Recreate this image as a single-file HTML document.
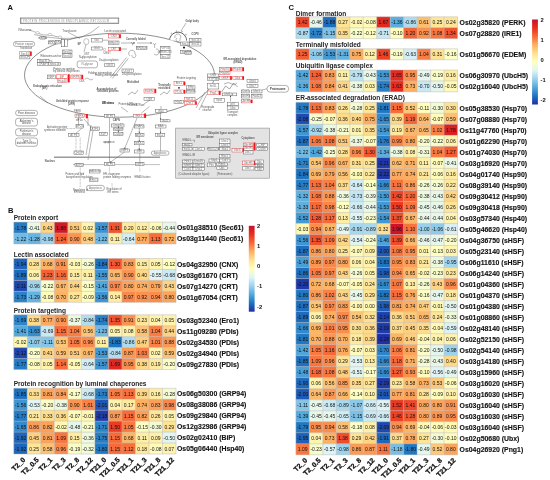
<!DOCTYPE html>
<html><head><meta charset="utf-8"><title>Figure</title><style>
*{margin:0;padding:0}
html,body{width:550px;height:480px;overflow:hidden;background:#fff}
svg{position:absolute;left:0;top:0;display:block}
text{font-family:"Liberation Sans",Arial,Helvetica,sans-serif}
.ti{font-size:6.55px;font-weight:bold;fill:#262626}
.nm{font-size:5.0px;fill:#111;text-anchor:middle;font-weight:normal}
.lb{font-size:6.9px;font-weight:bold;fill:#111;stroke:#111;stroke-width:0.12px}
.cl{font-size:6.9px;font-weight:bold;fill:#111;text-anchor:end;dominant-baseline:hanging;stroke:#111;stroke-width:0.3px}
.gl{stroke:#b4b4b4;stroke-width:0.45}
.lg{font-size:5.8px;fill:#111;font-weight:bold}
.pl{font-size:7.6px;font-weight:bold;fill:#111}
</style></head>
<body><svg width="550" height="480" viewBox="0 0 550 480">
<g id="kegg" font-family="Liberation Sans, Arial, sans-serif"><rect x="20.6" y="18.0" width="98.2" height="5.6" fill="#fff" stroke="#444" stroke-width="0.55"/>
<rect x="21.4" y="18.7" width="96.6" height="4.2" fill="none" stroke="#777" stroke-width="0.25"/>
<text x="23.0" y="22.0" font-size="2.56" textLength="86" lengthAdjust="spacing" fill="#888">PROTEIN PROCESSING IN ENDOPLASMIC RETICULUM</text>
<ellipse cx="119.5" cy="75.2" rx="95" ry="42" fill="none" stroke="#444" stroke-width="0.6"/>
<path d="M169.6 38.9 A8.6 8.6 0 0 1 186.6 40.6" stroke="#3a3a3a" stroke-width="0.80" fill="none"/>
<rect x="170.5" y="38.3" width="15.5" height="2.2" fill="#fff"/>
<path d="M175 38 a3 3 0 1 1 5 1 a2 2 0 1 1 -3 -1" stroke="#555" stroke-width="0.42" fill="none"/>
<text x="185.50" y="22.20" font-size="2.56" font-weight="bold" text-anchor="start" fill="#555">Golgi body</text>
<line x1="186.00" y1="23.00" x2="181.00" y2="31.00" stroke="#555" stroke-width="0.42"/>
<circle cx="171.5" cy="33.5" r="0.6" fill="none" stroke="#555" stroke-width="0.3"/>
<circle cx="176.5" cy="31.2" r="0.6" fill="none" stroke="#555" stroke-width="0.3"/>
<circle cx="182.0" cy="31.5" r="0.6" fill="none" stroke="#555" stroke-width="0.3"/>
<circle cx="186.0" cy="34.5" r="0.6" fill="none" stroke="#555" stroke-width="0.3"/>
<text x="18.50" y="31.00" font-size="2.88" text-anchor="start" fill="#555">Ribosome</text>
<path d="M29 30.2 Q34 31 37 33 Q44 36 50 35 Q58 36 64 40" stroke="#555" stroke-width="0.42" fill="none"/>
<path d="M34 34.5 Q60 41 82 37 Q92 33 99 26.5" stroke="#555" stroke-width="0.42" fill="none"/>
<ellipse cx="37.5" cy="32.8" rx="1.8" ry="1.2" fill="#fff" stroke="#555" stroke-width="0.3"/>
<ellipse cx="50.0" cy="34.5" rx="1.8" ry="1.2" fill="#fff" stroke="#555" stroke-width="0.3"/>
<ellipse cx="60.0" cy="37.2" rx="1.8" ry="1.2" fill="#fff" stroke="#555" stroke-width="0.3"/>
<rect x="39.60" y="36.60" width="6.20" height="2.60" rx="1.00" fill="#fff" stroke="#555" stroke-width="0.45"/>
<text x="42.70" y="38.85" font-size="2.94" text-anchor="middle" fill="#777">mRNA</text>
<text x="62.30" y="31.60" font-size="2.88" text-anchor="start" fill="#555">Translocon</text>
<line x1="68.00" y1="32.30" x2="80.00" y2="38.50" stroke="#555" stroke-width="0.42"/>
<rect x="13.50" y="41.50" width="21.10" height="4.90" rx="2.20" fill="#fff" stroke="#555" stroke-width="0.45"/>
<text x="24.05" y="44.90" font-size="2.94" text-anchor="middle" fill="#777">Protein export</text>
<text x="19.60" y="49.30" font-size="2.56" text-anchor="start" fill="#555">Translocon</text>
<rect x="19.80" y="51.70" width="10.10" height="4.00" rx="0.00" fill="#fff" stroke="#f03030" stroke-width="0.45"/>
<text x="24.85" y="54.65" font-size="2.94" text-anchor="middle" fill="#777">Sec61</text>
<rect x="30.05" y="51.50" width="1.7" height="4.40" fill="#f0141c"/>
<rect x="19.80" y="55.80" width="10.10" height="3.10" rx="0.00" fill="#fff" stroke="#555" stroke-width="0.45"/>
<text x="24.85" y="58.30" font-size="2.94" text-anchor="middle" fill="#777">SecDF</text>
<rect x="48.30" y="41.00" width="6.30" height="2.90" rx="0.00" fill="#fff" stroke="#555" stroke-width="0.45"/>
<text x="51.45" y="43.40" font-size="2.94" text-anchor="middle" fill="#777">SRP</text>
<rect x="55.20" y="40.70" width="5.20" height="3.20" rx="0.00" fill="#fff" stroke="#555" stroke-width="0.45"/>
<text x="57.80" y="43.25" font-size="2.94" text-anchor="middle" fill="#777">SR</text>
<rect x="61.6" y="39.6" width="2.6" height="7.2" fill="#fff" stroke="#444" stroke-width="0.4"/>
<rect x="64.8" y="39.6" width="2.6" height="7.2" fill="#fff" stroke="#444" stroke-width="0.4"/>
<rect x="62.50" y="50.00" width="9.50" height="3.50" rx="0.00" fill="#fff" stroke="#555" stroke-width="0.45"/>
<text x="67.25" y="52.70" font-size="2.94" text-anchor="middle" fill="#777">Sec62</text>
<rect x="62.50" y="53.80" width="9.50" height="3.50" rx="0.00" fill="#fff" stroke="#555" stroke-width="0.45"/>
<text x="67.25" y="56.50" font-size="2.94" text-anchor="middle" fill="#777">Sec63</text>
<text x="40.60" y="56.50" font-size="2.64" text-anchor="start" fill="#555">Ribosome-anchor</text>
<rect x="37.50" y="59.20" width="11.50" height="3.30" rx="0.00" fill="#fff" stroke="#555" stroke-width="0.45"/>
<text x="43.25" y="61.80" font-size="2.94" text-anchor="middle" fill="#777">Bap31</text>
<rect x="37.50" y="62.60" width="10.50" height="3.10" rx="0.00" fill="#fff" stroke="#555" stroke-width="0.45"/>
<text x="42.75" y="65.10" font-size="2.94" text-anchor="middle" fill="#777">TRAP</text>
<rect x="48.60" y="62.60" width="11.80" height="3.10" rx="0.00" fill="#fff" stroke="#555" stroke-width="0.45"/>
<text x="54.50" y="65.10" font-size="2.94" text-anchor="middle" fill="#777">Sec61b</text>
<line x1="49.00" y1="60.80" x2="52.00" y2="60.80" stroke="#555" stroke-width="0.42"/>
<line x1="52.00" y1="60.80" x2="52.00" y2="62.60" stroke="#555" stroke-width="0.42"/>
<text x="77.50" y="44.50" font-size="2.60" font-weight="bold" text-anchor="start" fill="#555">SP</text>
<ellipse cx="86.3" cy="41.6" rx="2.6" ry="3" fill="#fff" stroke="#555" stroke-width="0.35"/>
<line x1="86.00" y1="44.50" x2="84.00" y2="52.00" stroke="#555" stroke-width="0.42"/>
<text x="79.00" y="58.00" font-size="2.64" text-anchor="start" fill="#555">N-glycosylation</text>
<text x="84.00" y="54.50" font-size="2.56" text-anchor="start" fill="#555">OST</text>
<rect x="77.20" y="61.00" width="20.30" height="6.80" rx="2.20" fill="#fff" stroke="#555" stroke-width="0.45"/>
<text x="87.35" y="65.35" font-size="2.94" text-anchor="middle" fill="#777">N-glycan</text>
<rect x="91.30" y="38.40" width="10.90" height="3.60" rx="0.00" fill="#fff" stroke="#555" stroke-width="0.45"/>
<text x="96.75" y="41.15" font-size="2.94" text-anchor="middle" fill="#777">GlcI</text>
<rect x="91.30" y="47.00" width="10.90" height="3.00" rx="0.00" fill="#fff" stroke="#555" stroke-width="0.45"/>
<text x="96.75" y="49.45" font-size="2.94" text-anchor="middle" fill="#777">GlcII</text>
<text x="53.20" y="69.60" font-size="2.64" text-anchor="start" fill="#555">Protein recognition</text>
<text x="53.20" y="72.00" font-size="2.64" text-anchor="start" fill="#555">by luminal chaperones</text>
<rect x="47.50" y="75.00" width="7.80" height="3.80" rx="0.00" fill="#fff" stroke="#555" stroke-width="0.45"/>
<text x="51.40" y="77.85" font-size="2.94" text-anchor="middle" fill="#777">NEF</text>
<rect x="56.30" y="74.80" width="11.40" height="4.00" rx="0.00" fill="#fff" stroke="#f03030" stroke-width="0.45"/>
<text x="62.00" y="77.75" font-size="2.94" text-anchor="middle" fill="#777">BiP</text>
<rect x="57.30" y="78.80" width="10.40" height="3.50" rx="0.00" fill="#fff" stroke="#f03030" stroke-width="0.45"/>
<text x="62.50" y="81.50" font-size="2.94" text-anchor="middle" fill="#777">Hsp40</text>
<rect x="68.00" y="74.20" width="1.70" height="8.20" fill="#f0141c"/>
<rect x="70.80" y="75.00" width="10.50" height="3.80" rx="0.00" fill="#fff" stroke="#f03030" stroke-width="0.45"/>
<text x="76.05" y="77.85" font-size="2.94" text-anchor="middle" fill="#777">GRP94</text>
<rect x="81.45" y="74.80" width="1.7" height="4.20" fill="#f0141c"/>
<text x="33.30" y="86.60" font-size="2.60" font-weight="bold" text-anchor="start" fill="#555">Endoplasmic reticulum</text>
<text x="42.00" y="89.00" font-size="2.56" font-weight="bold" text-anchor="start" fill="#555">(ER)</text>
<text x="88.30" y="74.00" font-size="2.64" text-anchor="start" fill="#555">Folding intermediate</text>
<path d="M85 79 q2 -2 4 0 q2 2 4 0" stroke="#555" stroke-width="0.42" fill="none"/>
<text x="79.00" y="81.50" font-size="2.56" text-anchor="start" fill="#555">CNX</text>
<text x="104.50" y="32.20" font-size="2.76" text-anchor="start" fill="#555">Lectin associated</text>
<rect x="108.50" y="34.40" width="10.50" height="3.60" rx="0.00" fill="#fff" stroke="#f03030" stroke-width="0.45"/>
<text x="113.75" y="37.15" font-size="2.94" text-anchor="middle" fill="#777">CNX</text>
<rect x="119.15" y="34.20" width="1.7" height="4.00" fill="#f0141c"/>
<rect x="108.50" y="41.00" width="10.50" height="3.20" rx="0.00" fill="#fff" stroke="#555" stroke-width="0.45"/>
<text x="113.75" y="43.55" font-size="2.94" text-anchor="middle" fill="#777">ERp57</text>
<rect x="108.50" y="47.30" width="10.50" height="3.50" rx="0.00" fill="#fff" stroke="#f03030" stroke-width="0.45"/>
<text x="113.75" y="50.00" font-size="2.94" text-anchor="middle" fill="#777">CRT</text>
<rect x="119.15" y="47.10" width="1.7" height="3.90" fill="#f0141c"/>
<text x="103.50" y="54.00" font-size="2.56" text-anchor="start" fill="#555">UGGT</text>
<circle cx="104.5" cy="49.5" r="1.2" fill="none" stroke="#555" stroke-width="0.3"/>
<line x1="119.50" y1="49.00" x2="127.00" y2="49.00" stroke="#555" stroke-width="0.42"/>
<line x1="102.50" y1="40.20" x2="108.50" y2="40.20" stroke="#555" stroke-width="0.42"/>
<text x="126.00" y="40.10" font-size="2.56" font-weight="bold" text-anchor="start" fill="#555">Correctly folded</text>
<path d="M131 42 l1.7 2 l1.7 -2 M132.7 44 v1.5" stroke="#555" stroke-width="0.46" fill="none"/>
<rect x="136.70" y="46.30" width="10.30" height="3.10" rx="0.00" fill="#fff" stroke="#555" stroke-width="0.45"/>
<text x="141.85" y="48.80" font-size="2.94" text-anchor="middle" fill="#777">ERManI</text>
<line x1="121.00" y1="43.00" x2="135.00" y2="43.00" stroke="#555" stroke-width="0.42"/>
<path d="M135.00 43.00L133.56 43.70L133.56 42.30Z" fill="#444"/>
<line x1="137.00" y1="43.00" x2="152.00" y2="43.00" stroke="#555" stroke-width="0.42"/>
<path d="M152.00 43.00L150.56 43.70L150.56 42.30Z" fill="#444"/>
<path d="M130 56 a3.2 3.2 0 1 1 5 -2 a2 2 0 1 1 -3 1" stroke="#555" stroke-width="0.42" fill="none"/>
<path d="M153 43 l1.6 2 l1.6 -2 M154.6 45 v3 M156 49 a3 3 0 1 1 -2 5" stroke="#555" stroke-width="0.42" fill="none"/>
<rect x="160.60" y="46.30" width="9.40" height="4.00" rx="0.00" fill="#fff" stroke="#555" stroke-width="0.45"/>
<text x="165.30" y="49.25" font-size="2.94" text-anchor="middle" fill="#777">VIP36</text>
<rect x="160.60" y="50.40" width="9.40" height="4.00" rx="0.00" fill="#fff" stroke="#555" stroke-width="0.45"/>
<text x="165.30" y="53.35" font-size="2.94" text-anchor="middle" fill="#777">ERGIC53</text>
<rect x="160.60" y="54.50" width="9.40" height="4.10" rx="0.00" fill="#fff" stroke="#555" stroke-width="0.45"/>
<text x="165.30" y="57.50" font-size="2.94" text-anchor="middle" fill="#777">Sec12</text>
<line x1="157.50" y1="52.00" x2="160.60" y2="52.00" stroke="#555" stroke-width="0.42"/>
<rect x="180.40" y="42.00" width="10.40" height="3.20" rx="0.00" fill="#fff" stroke="#555" stroke-width="0.45"/>
<text x="185.60" y="44.55" font-size="2.94" text-anchor="middle" fill="#777">Sec23</text>
<rect x="180.40" y="50.40" width="10.40" height="3.10" rx="0.00" fill="#fff" stroke="#555" stroke-width="0.45"/>
<text x="185.60" y="52.90" font-size="2.94" text-anchor="middle" fill="#777">Sec24</text>
<text x="191.60" y="35.20" font-size="2.56" font-weight="bold" text-anchor="start" fill="#555">COPII</text>
<rect x="189.70" y="38.40" width="11.30" height="3.00" rx="0.00" fill="#fff" stroke="#555" stroke-width="0.45"/>
<text x="195.35" y="40.85" font-size="2.94" text-anchor="middle" fill="#777">Sec13</text>
<rect x="189.70" y="42.20" width="11.30" height="3.80" rx="0.00" fill="#fff" stroke="#555" stroke-width="0.45"/>
<text x="195.35" y="45.05" font-size="2.94" text-anchor="middle" fill="#777">Sec31</text>
<circle cx="184" cy="47.6" r="1.1" fill="#222"/>
<text x="99.00" y="60.50" font-size="2.64" text-anchor="start" fill="#555">De-glucosylation</text>
<rect x="104.40" y="63.80" width="10.40" height="2.80" rx="0.00" fill="#fff" stroke="#555" stroke-width="0.45"/>
<text x="109.60" y="66.15" font-size="2.94" text-anchor="middle" fill="#777">GlcII</text>
<line x1="126.50" y1="57.50" x2="110.50" y2="77.50" stroke="#555" stroke-width="0.46"/>
<line x1="128.30" y1="58.50" x2="112.30" y2="78.50" stroke="#555" stroke-width="0.46"/>
<rect x="122.00" y="69.00" width="11.50" height="3.30" rx="0.00" fill="#fff" stroke="#555" stroke-width="0.45"/>
<text x="127.75" y="71.60" font-size="2.94" text-anchor="middle" fill="#777">UGGT</text>
<text x="122.00" y="75.20" font-size="2.64" text-anchor="start" fill="#555">De-glucosylation</text>
<text x="95.00" y="76.20" font-size="2.56" text-anchor="start" fill="#555">Folding intermediate</text>
<text x="127.00" y="83.40" font-size="2.60" font-weight="bold" text-anchor="start" fill="#555">Misfolded</text>
<text x="158.20" y="86.20" font-size="2.56" font-weight="bold" text-anchor="start" fill="#555">Terminally</text>
<text x="158.20" y="88.90" font-size="2.56" font-weight="bold" text-anchor="start" fill="#555">misfolded</text>
<text x="96.50" y="89.60" font-size="2.56" font-weight="bold" text-anchor="start" fill="#555">Accumulation of</text>
<text x="97.20" y="92.20" font-size="2.56" font-weight="bold" text-anchor="start" fill="#555">unfolded proteins</text>
<rect x="144.00" y="89.00" width="10.40" height="4.00" rx="0.00" fill="#fff" stroke="#f03030" stroke-width="0.45"/>
<text x="149.20" y="91.95" font-size="2.94" text-anchor="middle" fill="#777">EDEM</text>
<rect x="154.55" y="88.80" width="1.7" height="4.40" fill="#f0141c"/>
<rect x="144.00" y="97.30" width="10.40" height="3.10" rx="0.00" fill="#fff" stroke="#555" stroke-width="0.45"/>
<text x="149.20" y="99.80" font-size="2.94" text-anchor="middle" fill="#777">OS9</text>
<path d="M128 95 l4 -3 l3 2 l3 -4" stroke="#555" stroke-width="0.46" fill="none"/>
<path d="M160 95 l4 -3 l3 2 l3 -4" stroke="#555" stroke-width="0.46" fill="none"/>
<path d="M150 100 l-6 4" stroke="#555" stroke-width="0.42" fill="none"/>
<text x="176.80" y="79.00" font-size="2.64" text-anchor="start" fill="#555">Protein targeting</text>
<rect x="174.00" y="81.70" width="9.50" height="3.50" rx="0.00" fill="#fff" stroke="#f03030" stroke-width="0.45"/>
<text x="178.75" y="84.40" font-size="2.94" text-anchor="middle" fill="#777">Ero1</text>
<rect x="183.65" y="81.50" width="1.7" height="3.90" fill="#f0141c"/>
<rect x="186.70" y="85.80" width="8.30" height="3.20" rx="0.00" fill="#fff" stroke="#555" stroke-width="0.45"/>
<text x="190.85" y="88.35" font-size="2.94" text-anchor="middle" fill="#777">ERp</text>
<circle cx="179" cy="87.8" r="0.9" fill="#222"/>
<rect x="174.00" y="90.00" width="9.50" height="3.50" rx="0.00" fill="#fff" stroke="#f03030" stroke-width="0.45"/>
<text x="178.75" y="92.70" font-size="2.94" text-anchor="middle" fill="#777">PDIs</text>
<rect x="183.65" y="89.80" width="1.7" height="3.90" fill="#f0141c"/>
<rect x="186.70" y="90.00" width="8.30" height="3.00" rx="0.00" fill="#fff" stroke="#555" stroke-width="0.45"/>
<text x="190.85" y="92.45" font-size="2.94" text-anchor="middle" fill="#777">ERp44</text>
<rect x="174.00" y="100.40" width="9.50" height="3.10" rx="0.00" fill="#fff" stroke="#555" stroke-width="0.45"/>
<text x="178.75" y="102.90" font-size="2.94" text-anchor="middle" fill="#777">Hrd1</text>
<rect x="184.60" y="97.30" width="10.40" height="3.10" rx="0.00" fill="#fff" stroke="#f03030" stroke-width="0.45"/>
<text x="189.80" y="99.80" font-size="2.94" text-anchor="middle" fill="#777">Sel1L</text>
<rect x="184.60" y="101.50" width="10.40" height="3.10" rx="0.00" fill="#fff" stroke="#f03030" stroke-width="0.45"/>
<text x="189.80" y="104.00" font-size="2.94" text-anchor="middle" fill="#777">Der1</text>
<rect x="195.15" y="101.30" width="1.7" height="3.50" fill="#f0141c"/>
<text x="102.00" y="104.00" font-size="2.56" font-weight="bold" text-anchor="start" fill="#555">UB stress</text>
<text x="118.50" y="105.00" font-size="2.64" text-anchor="start" fill="#555">Protein UPRsig</text>
<rect x="185.00" y="51.60" width="6.60" height="2.80" rx="0.00" fill="#fff" stroke="#555" stroke-width="0.45"/>
<text x="188.30" y="53.95" font-size="2.94" text-anchor="middle" fill="#777">Sar1</text>
<text x="223.50" y="60.00" font-size="2.56" font-weight="bold" text-anchor="start" fill="#555">ER-associated degradation</text>
<text x="233.50" y="62.70" font-size="2.56" font-weight="bold" text-anchor="start" fill="#555">(ERAD)</text>
<rect x="219.70" y="67.50" width="10.30" height="3.50" rx="0.00" fill="#fff" stroke="#f03030" stroke-width="0.45"/>
<text x="224.85" y="70.20" font-size="2.94" text-anchor="middle" fill="#777">Hsp70</text>
<rect x="230.15" y="67.30" width="1.7" height="3.90" fill="#f0141c"/>
<rect x="232.80" y="67.50" width="9.40" height="3.50" rx="0.00" fill="#fff" stroke="#f03030" stroke-width="0.45"/>
<text x="237.50" y="70.20" font-size="2.94" text-anchor="middle" fill="#777">Hsp40</text>
<rect x="242.35" y="67.30" width="1.7" height="3.90" fill="#f0141c"/>
<rect x="219.70" y="71.40" width="10.30" height="3.20" rx="0.00" fill="#fff" stroke="#f03030" stroke-width="0.45"/>
<text x="224.85" y="73.95" font-size="2.94" text-anchor="middle" fill="#777">Hsp90</text>
<rect x="219.70" y="76.30" width="10.30" height="3.40" rx="0.00" fill="#fff" stroke="#f03030" stroke-width="0.45"/>
<text x="224.85" y="78.95" font-size="2.94" text-anchor="middle" fill="#777">sHSF</text>
<rect x="230.15" y="76.10" width="1.7" height="3.80" fill="#f0141c"/>
<rect x="232.80" y="76.30" width="9.40" height="3.40" rx="0.00" fill="#fff" stroke="#f03030" stroke-width="0.45"/>
<text x="237.50" y="78.95" font-size="2.94" text-anchor="middle" fill="#777">Ubx</text>
<rect x="242.35" y="76.10" width="1.7" height="3.80" fill="#f0141c"/>
<rect x="207.50" y="74.00" width="11.30" height="3.00" rx="0.00" fill="#fff" stroke="#555" stroke-width="0.45"/>
<text x="213.15" y="76.45" font-size="2.94" text-anchor="middle" fill="#777">OS9</text>
<rect x="207.50" y="77.80" width="11.30" height="2.90" rx="0.00" fill="#fff" stroke="#555" stroke-width="0.45"/>
<text x="213.15" y="80.20" font-size="2.94" text-anchor="middle" fill="#777">XTP3B</text>
<rect x="207.50" y="83.50" width="11.30" height="5.50" rx="0.00" fill="#fff" stroke="#555" stroke-width="0.45"/>
<text x="213.15" y="87.20" font-size="2.94" text-anchor="middle" fill="#777">Sel1L</text>
<rect x="207.50" y="91.00" width="11.30" height="3.70" rx="0.00" fill="#fff" stroke="#f03030" stroke-width="0.45"/>
<text x="213.15" y="93.80" font-size="2.94" text-anchor="middle" fill="#777">Png1</text>
<rect x="218.95" y="90.80" width="1.7" height="4.10" fill="#f0141c"/>
<path d="M221.6 92 l4 -6 l4 3 l4 -6 l4 4" stroke="#555" stroke-width="0.52" fill="none"/>
<path d="M224 84 q4 -3 8 0 q3 2 5 -1" stroke="#555" stroke-width="0.46" fill="none"/>
<rect x="222.50" y="93.00" width="9.50" height="2.80" rx="0.00" fill="#fff" stroke="#555" stroke-width="0.45"/>
<text x="227.25" y="95.35" font-size="2.94" text-anchor="middle" fill="#777">Ufd1</text>
<rect x="232.80" y="93.00" width="4.00" height="2.80" rx="0.00" fill="#fff" stroke="#555" stroke-width="0.45"/>
<rect x="214.00" y="98.50" width="10.40" height="3.70" rx="0.00" fill="#fff" stroke="#555" stroke-width="0.45"/>
<text x="219.20" y="101.30" font-size="2.94" text-anchor="middle" fill="#777">Npl4</text>
<rect x="227.20" y="102.20" width="11.30" height="3.60" rx="0.00" fill="#fff" stroke="#555" stroke-width="0.45"/>
<text x="232.85" y="104.95" font-size="2.94" text-anchor="middle" fill="#777">p97</text>
<rect x="227.20" y="106.00" width="11.30" height="3.70" rx="0.00" fill="#fff" stroke="#555" stroke-width="0.45"/>
<text x="232.85" y="108.80" font-size="2.94" text-anchor="middle" fill="#777">Ubx</text>
<line x1="230.50" y1="101.60" x2="230.50" y2="95.50" stroke="#555" stroke-width="0.42"/>
<path d="M230.50 95.50L231.20 96.94L229.80 96.94Z" fill="#444"/>
<text x="227.00" y="112.80" font-size="2.64" text-anchor="start" fill="#555">Transport</text>
<text x="227.50" y="115.50" font-size="2.64" text-anchor="start" fill="#555">complex</text>
<rect x="247.00" y="79.70" width="11.00" height="2.90" rx="0.00" fill="#fff" stroke="#555" stroke-width="0.45"/>
<text x="252.50" y="82.10" font-size="2.94" text-anchor="middle" fill="#777">Ubc6</text>
<rect x="247.00" y="84.40" width="11.00" height="2.90" rx="0.00" fill="#fff" stroke="#555" stroke-width="0.45"/>
<text x="252.50" y="86.80" font-size="2.94" text-anchor="middle" fill="#777">Ubc7</text>
<rect x="241.30" y="90.00" width="8.40" height="2.90" rx="0.00" fill="#fff" stroke="#555" stroke-width="0.45"/>
<text x="245.50" y="92.40" font-size="2.94" text-anchor="middle" fill="#777">Cue1</text>
<rect x="251.60" y="90.00" width="10.40" height="2.90" rx="0.00" fill="#fff" stroke="#555" stroke-width="0.45"/>
<text x="256.80" y="92.40" font-size="2.94" text-anchor="middle" fill="#777">Ubc1</text>
<rect x="241.30" y="94.70" width="8.40" height="3.30" rx="0.00" fill="#fff" stroke="#555" stroke-width="0.45"/>
<text x="245.50" y="97.30" font-size="2.94" text-anchor="middle" fill="#777">UbcH5</text>
<rect x="251.60" y="94.70" width="10.40" height="3.30" rx="0.00" fill="#fff" stroke="#555" stroke-width="0.45"/>
<text x="256.80" y="97.30" font-size="2.94" text-anchor="middle" fill="#777">Rad23</text>
<rect x="241.30" y="99.80" width="9.40" height="3.10" rx="0.00" fill="#fff" stroke="#f03030" stroke-width="0.45"/>
<text x="246.00" y="102.30" font-size="2.94" text-anchor="middle" fill="#777">UbcH5</text>
<rect x="250.85" y="99.60" width="1.7" height="3.50" fill="#f0141c"/>
<rect x="267.00" y="85.40" width="21.60" height="6.80" rx="3.20" fill="#fff" stroke="#555" stroke-width="0.45"/>
<text x="277.80" y="89.80" font-size="2.70" font-weight="bold" text-anchor="middle" fill="#333">Proteasome</text>
<line x1="262.00" y1="90.00" x2="267.00" y2="88.80" stroke="#555" stroke-width="0.42"/>
<path d="M205 92 L196 108 M207 94 L199 110" stroke="#555" stroke-width="0.42" fill="none"/>
<text x="201.50" y="108.00" font-size="2.56" text-anchor="start" fill="#555">Retrograde</text>
<text x="202.50" y="110.80" font-size="2.56" text-anchor="start" fill="#555">channel</text>
<text x="56.00" y="102.40" font-size="2.60" font-weight="bold" text-anchor="start" fill="#555">Unfolded protein response</text>
<text x="68.00" y="105.00" font-size="2.56" font-weight="bold" text-anchor="start" fill="#555">(UPR)</text>
<rect x="15.60" y="110.40" width="21.90" height="5.20" rx="2.40" fill="#fff" stroke="#555" stroke-width="0.45"/>
<text x="26.50" y="113.90" font-size="2.64" text-anchor="middle" fill="#555">Prion diseases</text>
<rect x="15.60" y="118.30" width="21.90" height="7.70" rx="2.40" fill="#fff" stroke="#555" stroke-width="0.45"/>
<text x="26.50" y="121.70" font-size="2.64" text-anchor="middle" fill="#555">Alzheimer's</text>
<text x="26.50" y="124.40" font-size="2.64" text-anchor="middle" fill="#555">disease</text>
<rect x="15.60" y="128.70" width="21.90" height="7.10" rx="2.40" fill="#fff" stroke="#555" stroke-width="0.45"/>
<text x="26.50" y="131.90" font-size="2.64" text-anchor="middle" fill="#555">Parkinson's</text>
<text x="26.50" y="134.50" font-size="2.64" text-anchor="middle" fill="#555">disease</text>
<rect x="15.60" y="138.00" width="21.90" height="8.30" rx="2.40" fill="#fff" stroke="#555" stroke-width="0.45"/>
<text x="26.50" y="141.60" font-size="2.64" text-anchor="middle" fill="#555">Type II</text>
<text x="26.50" y="144.30" font-size="2.64" text-anchor="middle" fill="#555">diabetes mellitus</text>
<text x="74.00" y="112.00" font-size="2.56" text-anchor="start" fill="#555">PERK</text>
<rect x="75.00" y="114.00" width="9.40" height="3.70" rx="0.00" fill="#fff" stroke="#f03030" stroke-width="0.45"/>
<text x="79.70" y="116.80" font-size="2.94" text-anchor="middle" fill="#777">PERK</text>
<rect x="85.80" y="114.00" width="2.10" height="4.30" fill="#f0141c"/>
<text x="76.00" y="121.00" font-size="2.56" text-anchor="start" fill="#555">eIF2a</text>
<rect x="76.00" y="124.60" width="7.30" height="3.40" rx="0.00" fill="#fff" stroke="#555" stroke-width="0.45"/>
<text x="79.65" y="127.25" font-size="2.94" text-anchor="middle" fill="#777">eIF2a</text>
<rect x="68.70" y="133.30" width="10.30" height="3.30" rx="0.00" fill="#fff" stroke="#555" stroke-width="0.45"/>
<text x="73.85" y="135.90" font-size="2.94" text-anchor="middle" fill="#777">ATF4</text>
<text x="47.00" y="128.00" font-size="2.64" text-anchor="start" fill="#555">Activating protein</text>
<text x="44.00" y="130.50" font-size="2.64" text-anchor="start" fill="#555">synthesis inhibition</text>
<line x1="63.00" y1="128.50" x2="75.00" y2="128.50" stroke="#555" stroke-width="0.42" stroke-dasharray="0.8 0.6"/>
<line x1="76.00" y1="137.50" x2="76.00" y2="151.00" stroke="#555" stroke-width="0.42" stroke-dasharray="0.8 0.6"/>
<line x1="80.20" y1="137.50" x2="80.20" y2="151.00" stroke="#555" stroke-width="0.42" stroke-dasharray="0.8 0.6"/>
<rect x="74.00" y="151.00" width="9.30" height="3.60" rx="0.00" fill="#fff" stroke="#555" stroke-width="0.45"/>
<text x="78.65" y="153.75" font-size="2.94" text-anchor="middle" fill="#777">CHOP</text>
<rect x="90.50" y="127.00" width="9.00" height="3.30" rx="0.00" fill="#fff" stroke="#555" stroke-width="0.45"/>
<text x="95.00" y="129.60" font-size="2.94" text-anchor="middle" fill="#777">ATF6</text>
<line x1="84.00" y1="119.00" x2="91.00" y2="127.00" stroke="#555" stroke-width="0.42"/>
<path d="M91 125 L86 155 M93 131 L88 160" stroke="#555" stroke-width="0.42" fill="none"/>
<line x1="54.00" y1="157.30" x2="160.00" y2="157.30" stroke="#9a9a9a" stroke-width="1.61"/>
<line x1="73.00" y1="164.60" x2="160.00" y2="164.60" stroke="#777" stroke-width="0.46"/>
<text x="44.80" y="162.00" font-size="2.60" font-weight="bold" text-anchor="start" fill="#555">Nucleus</text>
<rect x="75.00" y="163.40" width="8.30" height="2.90" rx="0.00" fill="#fff" stroke="#555" stroke-width="0.45"/>
<text x="79.15" y="165.80" font-size="2.94" text-anchor="middle" fill="#777">ATF4</text>
<rect x="104.40" y="162.50" width="10.40" height="3.10" rx="0.00" fill="#fff" stroke="#555" stroke-width="0.45"/>
<text x="109.60" y="165.00" font-size="2.94" text-anchor="middle" fill="#777">ATF6</text>
<rect x="135.60" y="162.50" width="8.40" height="3.10" rx="0.00" fill="#fff" stroke="#555" stroke-width="0.45"/>
<text x="139.80" y="165.00" font-size="2.94" text-anchor="middle" fill="#777">XBP1</text>
<text x="65.50" y="175.00" font-size="2.64" text-anchor="start" fill="#555">Protein and lipid</text>
<text x="66.00" y="177.60" font-size="2.64" text-anchor="start" fill="#555">biosynthesis regulation</text>
<text x="103.30" y="175.00" font-size="2.64" text-anchor="start" fill="#555">ER chaperone</text>
<text x="103.30" y="177.60" font-size="2.64" text-anchor="start" fill="#555">protein folding enzymes</text>
<text x="134.60" y="177.60" font-size="2.64" text-anchor="start" fill="#555">ERAD factors</text>
<rect x="89.60" y="170.00" width="10.40" height="3.00" rx="0.00" fill="#fff" stroke="#555" stroke-width="0.45"/>
<text x="94.80" y="172.45" font-size="2.94" text-anchor="middle" fill="#777">GADD34</text>
<rect x="89.60" y="178.00" width="8.40" height="3.30" rx="0.00" fill="#fff" stroke="#555" stroke-width="0.45"/>
<text x="93.80" y="180.60" font-size="2.94" text-anchor="middle" fill="#777">ERO1</text>
<rect x="86.50" y="185.40" width="17.90" height="5.20" rx="2.40" fill="#fff" stroke="#555" stroke-width="0.45"/>
<text x="95.45" y="188.95" font-size="2.94" text-anchor="middle" fill="#777">Apoptosis</text>
<line x1="80.20" y1="166.50" x2="80.20" y2="187.50" stroke="#555" stroke-width="0.42" stroke-dasharray="0.8 0.6"/>
<text x="73.00" y="190.60" font-size="2.56" text-anchor="start" fill="#555">Regulation of</text>
<text x="74.00" y="193.20" font-size="2.56" text-anchor="start" fill="#555">ER stress</text>
<text x="106.50" y="190.40" font-size="2.56" text-anchor="start" fill="#555">Regulation of</text>
<text x="107.50" y="193.00" font-size="2.56" text-anchor="start" fill="#555">ER stress</text>
<line x1="112.00" y1="183.00" x2="112.00" y2="188.00" stroke="#555" stroke-width="0.42" stroke-dasharray="0.6 0.6"/>
<text x="102.30" y="103.80" font-size="2.56" font-weight="bold" text-anchor="start" fill="#555">ER stress</text>
<rect x="104.40" y="114.60" width="10.40" height="3.10" rx="0.00" fill="#fff" stroke="#555" stroke-width="0.45"/>
<text x="109.60" y="117.10" font-size="2.94" text-anchor="middle" fill="#777">ATF6</text>
<rect x="133.50" y="114.20" width="10.50" height="3.50" rx="0.00" fill="#fff" stroke="#f03030" stroke-width="0.45"/>
<text x="138.75" y="116.90" font-size="2.94" text-anchor="middle" fill="#777">IRE1</text>
<rect x="144.10" y="113.50" width="2.00" height="4.40" fill="#f0141c"/>
<rect x="155.40" y="109.40" width="11.50" height="3.10" rx="0.00" fill="#fff" stroke="#555" stroke-width="0.45"/>
<text x="161.15" y="111.90" font-size="2.94" text-anchor="middle" fill="#777">Bax</text>
<rect x="160.60" y="119.80" width="9.40" height="2.10" rx="0.00" fill="#fff" stroke="#555" stroke-width="0.45"/>
<text x="165.30" y="121.80" font-size="2.94" text-anchor="middle" fill="#777">Bcl2</text>
<text x="112.70" y="121.30" font-size="2.56" font-weight="bold" text-anchor="start" fill="#555">CAPN</text>
<rect x="111.70" y="124.00" width="12.30" height="3.00" rx="0.00" fill="#fff" stroke="#555" stroke-width="0.45"/>
<text x="117.85" y="126.45" font-size="2.94" text-anchor="middle" fill="#777">Casp12</text>
<rect x="113.70" y="128.00" width="9.30" height="2.20" rx="0.00" fill="#fff" stroke="#555" stroke-width="0.45"/>
<text x="118.35" y="130.05" font-size="2.94" text-anchor="middle" fill="#777">Casp9</text>
<rect x="113.70" y="132.30" width="9.30" height="3.10" rx="0.00" fill="#fff" stroke="#555" stroke-width="0.45"/>
<text x="118.35" y="134.80" font-size="2.94" text-anchor="middle" fill="#777">Casp3</text>
<rect x="99.20" y="132.30" width="8.30" height="3.10" rx="0.00" fill="#fff" stroke="#555" stroke-width="0.45"/>
<text x="103.35" y="134.80" font-size="2.94" text-anchor="middle" fill="#777">S1P</text>
<text x="103.30" y="143.20" font-size="2.64" text-anchor="start" fill="#555">apoptosis</text>
<rect x="134.60" y="125.00" width="9.40" height="3.00" rx="0.00" fill="#fff" stroke="#555" stroke-width="0.45"/>
<text x="139.30" y="127.45" font-size="2.94" text-anchor="middle" fill="#777">TRAF2</text>
<rect x="135.60" y="133.30" width="8.40" height="3.20" rx="0.00" fill="#fff" stroke="#555" stroke-width="0.45"/>
<text x="139.80" y="135.85" font-size="2.94" text-anchor="middle" fill="#777">ASK1</text>
<rect x="134.60" y="141.70" width="9.40" height="3.10" rx="0.00" fill="#fff" stroke="#555" stroke-width="0.45"/>
<text x="139.30" y="144.20" font-size="2.94" text-anchor="middle" fill="#777">MKK7</text>
<rect x="134.60" y="150.00" width="9.40" height="3.00" rx="0.00" fill="#fff" stroke="#555" stroke-width="0.45"/>
<text x="139.30" y="152.45" font-size="2.94" text-anchor="middle" fill="#777">JNK</text>
<rect x="120.00" y="149.00" width="9.40" height="3.00" rx="0.00" fill="#fff" stroke="#555" stroke-width="0.45"/>
<text x="124.70" y="151.45" font-size="2.94" text-anchor="middle" fill="#777">XBP1</text>
<rect x="151.30" y="151.00" width="17.70" height="4.20" rx="2.20" fill="#fff" stroke="#555" stroke-width="0.45"/>
<text x="160.15" y="154.05" font-size="2.94" text-anchor="middle" fill="#777">Apoptosis</text>
<rect x="155.40" y="125.00" width="10.60" height="3.00" rx="0.00" fill="#fff" stroke="#555" stroke-width="0.45"/>
<text x="160.70" y="127.45" font-size="2.94" text-anchor="middle" fill="#777">BAK</text>
<rect x="155.40" y="133.30" width="9.40" height="3.20" rx="0.00" fill="#fff" stroke="#555" stroke-width="0.45"/>
<text x="160.10" y="135.85" font-size="2.94" text-anchor="middle" fill="#777">Bcl-2</text>
<line x1="139.30" y1="128.00" x2="139.30" y2="133.30" stroke="#555" stroke-width="0.42"/>
<path d="M139.30 133.30L138.60 131.86L140.00 131.86Z" fill="#444"/>
<line x1="139.30" y1="136.50" x2="139.30" y2="141.70" stroke="#555" stroke-width="0.42"/>
<path d="M139.30 141.70L138.60 140.26L140.00 140.26Z" fill="#444"/>
<line x1="139.30" y1="144.80" x2="139.30" y2="150.00" stroke="#555" stroke-width="0.42"/>
<path d="M139.30 150.00L138.60 148.56L140.00 148.56Z" fill="#444"/>
<line x1="160.50" y1="112.50" x2="160.50" y2="119.80" stroke="#555" stroke-width="0.42"/>
<path d="M160.50 119.80L159.80 118.36L161.20 118.36Z" fill="#444"/>
<line x1="160.50" y1="128.00" x2="160.50" y2="133.30" stroke="#555" stroke-width="0.42"/>
<path d="M160.50 133.30L159.80 131.86L161.20 131.86Z" fill="#444"/>
<line x1="118.40" y1="127.00" x2="118.40" y2="128.00" stroke="#555" stroke-width="0.42"/>
<path d="M118.40 128.00L117.70 126.56L119.10 126.56Z" fill="#444"/>
<line x1="118.40" y1="130.20" x2="118.40" y2="132.30" stroke="#555" stroke-width="0.42"/>
<path d="M118.40 132.30L117.70 130.86L119.10 130.86Z" fill="#444"/>
<line x1="160.50" y1="136.50" x2="160.50" y2="151.00" stroke="#555" stroke-width="0.42"/>
<line x1="109.50" y1="117.70" x2="109.50" y2="162.50" stroke="#555" stroke-width="0.42"/>
<line x1="109.50" y1="142.00" x2="104.00" y2="142.00" stroke="#555" stroke-width="0.42"/>
<line x1="137.00" y1="118.00" x2="124.50" y2="149.00" stroke="#555" stroke-width="0.42"/>
<path d="M124.50 149.00L124.39 147.40L125.68 147.92Z" fill="#444"/>
<line x1="124.50" y1="152.00" x2="110.00" y2="162.50" stroke="#555" stroke-width="0.42"/>
<path d="M110.00 162.50L110.76 161.09L111.58 162.22Z" fill="#444"/>
<line x1="139.80" y1="153.00" x2="139.80" y2="162.50" stroke="#555" stroke-width="0.42"/>
<line x1="109.50" y1="165.60" x2="109.50" y2="172.00" stroke="#555" stroke-width="0.42" stroke-dasharray="0.6 0.6"/>
<line x1="139.80" y1="165.60" x2="139.80" y2="172.00" stroke="#555" stroke-width="0.42" stroke-dasharray="0.6 0.6"/>
<line x1="88.00" y1="117.50" x2="88.00" y2="126.00" stroke="#555" stroke-width="0.42"/>
<line x1="78.50" y1="117.70" x2="78.50" y2="124.60" stroke="#555" stroke-width="0.42"/>
<line x1="82.00" y1="128.00" x2="76.00" y2="133.30" stroke="#555" stroke-width="0.42"/>
<line x1="40.00" y1="96.00" x2="48.00" y2="103.00" stroke="#555" stroke-width="0.42"/>
<text x="127.00" y="106.00" font-size="2.56" text-anchor="start" fill="#555">Protein ATPase</text>
<line x1="121.00" y1="107.00" x2="128.00" y2="112.00" stroke="#555" stroke-width="0.42"/>
<line x1="149.50" y1="106.50" x2="141.50" y2="113.00" stroke="#555" stroke-width="0.42"/>
<line x1="161.00" y1="106.00" x2="161.00" y2="109.40" stroke="#555" stroke-width="0.42"/>
<rect x="175.7" y="128.1" width="93.9" height="50.1" fill="#e3e3e3" stroke="#8a8a8a" stroke-width="0.6"/>
<text x="208.00" y="133.60" font-size="2.56" font-weight="bold" text-anchor="start" fill="#555">Ubiquitin ligase complex</text>
<text x="196.50" y="138.20" font-size="2.56" font-weight="bold" text-anchor="start" fill="#555">ER membrane</text>
<text x="241.50" y="138.60" font-size="2.56" font-weight="bold" text-anchor="start" fill="#555">Cytoplasm</text>
<text x="182.40" y="141.20" font-size="2.64" text-anchor="start" fill="#555">ERAD-L</text>
<path d="M192.5 140.2 h2 v2" stroke="#555" stroke-width="0.42" fill="none"/>
<rect x="182.40" y="143.30" width="9.60" height="2.60" rx="0.00" fill="#fff" stroke="#555" stroke-width="0.45"/>
<text x="187.20" y="145.55" font-size="2.94" text-anchor="middle" fill="#777">Hrd1</text>
<rect x="182.40" y="147.30" width="9.60" height="2.90" rx="0.00" fill="#fff" stroke="#555" stroke-width="0.45"/>
<text x="187.20" y="149.70" font-size="2.94" text-anchor="middle" fill="#777">Sel1L</text>
<rect x="193.00" y="147.30" width="11.40" height="2.90" rx="0.00" fill="#fff" stroke="#555" stroke-width="0.45"/>
<text x="198.70" y="149.70" font-size="2.94" text-anchor="middle" fill="#777">Der1</text>
<rect x="219.60" y="139.00" width="10.40" height="4.30" rx="0.00" fill="#fff" stroke="#555" stroke-width="0.45"/>
<text x="224.80" y="142.10" font-size="2.94" text-anchor="middle" fill="#777">Ube2</text>
<rect x="219.60" y="143.30" width="10.40" height="3.00" rx="0.00" fill="#fff" stroke="#555" stroke-width="0.45"/>
<text x="224.80" y="145.75" font-size="2.94" text-anchor="middle" fill="#777">Ube3</text>
<rect x="208.00" y="147.30" width="10.70" height="2.90" rx="0.00" fill="#fff" stroke="#555" stroke-width="0.45"/>
<text x="213.35" y="149.70" font-size="2.94" text-anchor="middle" fill="#777">FBXO2/6</text>
<rect x="219.60" y="147.30" width="10.40" height="2.90" rx="0.00" fill="#fff" stroke="#555" stroke-width="0.45"/>
<text x="224.80" y="149.70" font-size="2.94" text-anchor="middle" fill="#777">Skp1</text>
<rect x="243.50" y="143.00" width="9.50" height="3.40" rx="0.00" fill="#fff" stroke="#f03030" stroke-width="0.45"/>
<text x="248.25" y="145.65" font-size="2.94" text-anchor="middle" fill="#777">UbcH5</text>
<rect x="243.50" y="146.70" width="9.50" height="3.50" rx="0.00" fill="#fff" stroke="#f03030" stroke-width="0.45"/>
<text x="248.25" y="149.40" font-size="2.94" text-anchor="middle" fill="#777">UbcH5</text>
<rect x="253.60" y="142.50" width="1.90" height="8.00" fill="#f0141c"/>
<rect x="232.00" y="148.60" width="10.50" height="3.40" rx="0.00" fill="#fff" stroke="#f03030" stroke-width="0.45"/>
<text x="237.25" y="151.25" font-size="2.94" text-anchor="middle" fill="#777">Ubc6</text>
<rect x="242.60" y="148.40" width="1.50" height="3.80" fill="#f0141c"/>
<rect x="243.50" y="150.50" width="9.50" height="3.50" rx="0.00" fill="#fff" stroke="#555" stroke-width="0.45"/>
<text x="248.25" y="153.20" font-size="2.94" text-anchor="middle" fill="#777">Ubc7</text>
<rect x="256.80" y="143.30" width="10.50" height="3.00" rx="0.00" fill="#fff" stroke="#555" stroke-width="0.45"/>
<text x="262.05" y="145.75" font-size="2.94" text-anchor="middle" fill="#777">CHIP</text>
<rect x="256.80" y="147.70" width="10.50" height="2.80" rx="0.00" fill="#fff" stroke="#555" stroke-width="0.45"/>
<text x="262.05" y="150.05" font-size="2.94" text-anchor="middle" fill="#777">Cullin</text>
<text x="182.40" y="155.80" font-size="2.64" text-anchor="start" fill="#555">ERAD-L/M</text>
<rect x="219.60" y="154.40" width="10.40" height="3.40" rx="0.00" fill="#fff" stroke="#555" stroke-width="0.45"/>
<text x="224.80" y="157.05" font-size="2.94" text-anchor="middle" fill="#777">Rbx1</text>
<rect x="209.00" y="159.00" width="10.60" height="3.00" rx="0.00" fill="#fff" stroke="#555" stroke-width="0.45"/>
<text x="214.30" y="161.45" font-size="2.94" text-anchor="middle" fill="#777">Skp1</text>
<rect x="219.60" y="159.00" width="10.40" height="3.00" rx="0.00" fill="#fff" stroke="#555" stroke-width="0.45"/>
<text x="224.80" y="161.45" font-size="2.94" text-anchor="middle" fill="#777">Cul1</text>
<rect x="207.20" y="163.00" width="8.60" height="3.80" rx="0.00" fill="#fff" stroke="#555" stroke-width="0.45"/>
<text x="211.50" y="165.85" font-size="2.94" text-anchor="middle" fill="#777">Fbs</text>
<rect x="216.80" y="163.00" width="10.50" height="2.80" rx="0.00" fill="#fff" stroke="#555" stroke-width="0.45"/>
<text x="222.05" y="165.35" font-size="2.94" text-anchor="middle" fill="#777">Rbx1</text>
<rect x="216.80" y="166.80" width="10.50" height="2.40" rx="0.00" fill="#fff" stroke="#555" stroke-width="0.45"/>
<text x="222.05" y="168.95" font-size="2.94" text-anchor="middle" fill="#777">Ubc</text>
<rect x="182.40" y="160.00" width="10.60" height="3.00" rx="0.00" fill="#fff" stroke="#555" stroke-width="0.45"/>
<text x="187.70" y="162.45" font-size="2.94" text-anchor="middle" fill="#777">Hrd1</text>
<rect x="182.40" y="164.00" width="10.60" height="2.80" rx="0.00" fill="#fff" stroke="#555" stroke-width="0.45"/>
<text x="187.70" y="166.35" font-size="2.94" text-anchor="middle" fill="#777">Ubc6</text>
<rect x="182.40" y="167.70" width="10.60" height="2.90" rx="0.00" fill="#fff" stroke="#555" stroke-width="0.45"/>
<text x="187.70" y="170.10" font-size="2.94" text-anchor="middle" fill="#777">Cue1</text>
<rect x="193.00" y="160.00" width="11.40" height="3.00" rx="0.00" fill="#fff" stroke="#555" stroke-width="0.45"/>
<text x="198.70" y="162.45" font-size="2.94" text-anchor="middle" fill="#777">Doa10</text>
<rect x="193.00" y="164.00" width="11.40" height="2.80" rx="0.00" fill="#fff" stroke="#555" stroke-width="0.45"/>
<text x="198.70" y="166.35" font-size="2.94" text-anchor="middle" fill="#777">Ubc7</text>
<rect x="193.00" y="167.70" width="11.40" height="2.90" rx="0.00" fill="#fff" stroke="#555" stroke-width="0.45"/>
<text x="198.70" y="170.10" font-size="2.94" text-anchor="middle" fill="#777">Usa1</text>
<rect x="242.50" y="161.00" width="11.50" height="3.80" rx="0.00" fill="#fff" stroke="#f03030" stroke-width="0.45"/>
<text x="248.25" y="163.85" font-size="2.94" text-anchor="middle" fill="#777">UbcH5</text>
<rect x="254.15" y="160.80" width="1.7" height="4.20" fill="#f0141c"/>
<rect x="255.00" y="160.00" width="8.50" height="3.50" rx="0.00" fill="#fff" stroke="#555" stroke-width="0.45"/>
<text x="259.25" y="162.70" font-size="2.94" text-anchor="middle" fill="#777">Ubc</text>
<rect x="255.00" y="164.30" width="8.50" height="2.50" rx="0.00" fill="#fff" stroke="#555" stroke-width="0.45"/>
<text x="259.25" y="166.50" font-size="2.94" text-anchor="middle" fill="#777">Rbx</text>
<rect x="242.50" y="166.80" width="11.50" height="3.20" rx="0.00" fill="#fff" stroke="#555" stroke-width="0.45"/>
<text x="248.25" y="169.35" font-size="2.94" text-anchor="middle" fill="#777">Ubc7</text>
<rect x="255.00" y="167.70" width="8.50" height="2.90" rx="0.00" fill="#fff" stroke="#555" stroke-width="0.45"/>
<text x="259.25" y="170.10" font-size="2.94" text-anchor="middle" fill="#777">Skp</text>
<text x="178.60" y="174.60" font-size="2.56" text-anchor="start" fill="#555">(Cul-based ubiquitin ligase)</text>
<text x="216.80" y="174.60" font-size="2.56" text-anchor="start" fill="#555">(Proteasome)</text></g>
<text x="7.6" y="10.1" class="pl">A</text>
<text x="7.9" y="212.6" class="pl">B</text>
<text x="288.6" y="10.1" class="pl">C</text>
<text x="13.70" y="219.80" class="ti">Protein export</text>
<rect x="13.80" y="222.10" width="13.52" height="10.95" fill="#247AC3"/>
<rect x="27.32" y="222.10" width="13.52" height="10.95" fill="#EAF8E4"/>
<rect x="40.84" y="222.10" width="13.52" height="10.95" fill="#FED384"/>
<rect x="54.36" y="222.10" width="13.52" height="10.95" fill="#D21927"/>
<rect x="67.88" y="222.10" width="13.52" height="10.95" fill="#FECA7B"/>
<rect x="81.40" y="222.10" width="13.52" height="10.95" fill="#FFF5B0"/>
<rect x="94.92" y="222.10" width="13.52" height="10.95" fill="#3E94D1"/>
<rect x="108.44" y="222.10" width="13.52" height="10.95" fill="#F2552F"/>
<rect x="121.96" y="222.10" width="13.52" height="10.95" fill="#FEE99D"/>
<rect x="135.48" y="222.10" width="13.52" height="10.95" fill="#FEEEA6"/>
<rect x="149.00" y="222.10" width="13.52" height="10.95" fill="#FFFBB9"/>
<rect x="162.52" y="222.10" width="13.52" height="10.95" fill="#E8F7E8"/>
<rect x="13.80" y="233.05" width="13.52" height="10.95" fill="#72BAE3"/>
<rect x="27.32" y="233.05" width="13.52" height="10.95" fill="#68B4E1"/>
<rect x="40.84" y="233.05" width="13.52" height="10.95" fill="#9CD2EC"/>
<rect x="54.36" y="233.05" width="13.52" height="10.95" fill="#F55F33"/>
<rect x="67.88" y="233.05" width="13.52" height="10.95" fill="#FB9451"/>
<rect x="81.40" y="233.05" width="13.52" height="10.95" fill="#FECD7E"/>
<rect x="94.92" y="233.05" width="13.52" height="10.95" fill="#72BAE3"/>
<rect x="108.44" y="233.05" width="13.52" height="10.95" fill="#FEEFA7"/>
<rect x="121.96" y="233.05" width="13.52" height="10.95" fill="#D2EDF4"/>
<rect x="135.48" y="233.05" width="13.52" height="10.95" fill="#FDA95E"/>
<rect x="149.00" y="233.05" width="13.52" height="10.95" fill="#F86E3B"/>
<rect x="162.52" y="233.05" width="13.52" height="10.95" fill="#FDB163"/>
<text x="20.56" y="229.57" class="nm">-1.78</text>
<text x="34.08" y="229.57" class="nm">-0.41</text>
<text x="47.60" y="229.57" class="nm">0.43</text>
<text x="61.12" y="229.57" class="nm">1.88</text>
<text x="74.64" y="229.57" class="nm">0.51</text>
<text x="88.16" y="229.57" class="nm">0.02</text>
<text x="101.68" y="229.57" class="nm">-1.57</text>
<text x="115.20" y="229.57" class="nm">1.31</text>
<text x="128.72" y="229.57" class="nm">0.20</text>
<text x="142.24" y="229.57" class="nm">0.12</text>
<text x="155.76" y="229.57" class="nm">-0.06</text>
<text x="169.28" y="229.57" class="nm">-0.44</text>
<text x="177.00" y="230.27" class="lb">Os01g38510 (Sec61)</text>
<text x="20.56" y="240.52" class="nm">-1.22</text>
<text x="34.08" y="240.52" class="nm">-1.28</text>
<text x="47.60" y="240.52" class="nm">-0.98</text>
<text x="61.12" y="240.52" class="nm">1.24</text>
<text x="74.64" y="240.52" class="nm">0.90</text>
<text x="88.16" y="240.52" class="nm">0.48</text>
<text x="101.68" y="240.52" class="nm">-1.22</text>
<text x="115.20" y="240.52" class="nm">0.11</text>
<text x="128.72" y="240.52" class="nm">-0.64</text>
<text x="142.24" y="240.52" class="nm">0.77</text>
<text x="155.76" y="240.52" class="nm">1.13</text>
<text x="169.28" y="240.52" class="nm">0.72</text>
<text x="177.00" y="241.22" class="lb">Os03g11440 (Sec61)</text>
<line x1="13.80" y1="222.10" x2="176.04" y2="222.10" class="gl"/>
<line x1="13.80" y1="233.05" x2="176.04" y2="233.05" class="gl"/>
<line x1="13.80" y1="244.00" x2="176.04" y2="244.00" class="gl"/>
<line x1="13.80" y1="222.10" x2="13.80" y2="244.00" class="gl"/>
<line x1="27.32" y1="222.10" x2="27.32" y2="244.00" class="gl"/>
<line x1="40.84" y1="222.10" x2="40.84" y2="244.00" class="gl"/>
<line x1="54.36" y1="222.10" x2="54.36" y2="244.00" class="gl"/>
<line x1="67.88" y1="222.10" x2="67.88" y2="244.00" class="gl"/>
<line x1="81.40" y1="222.10" x2="81.40" y2="244.00" class="gl"/>
<line x1="94.92" y1="222.10" x2="94.92" y2="244.00" class="gl"/>
<line x1="108.44" y1="222.10" x2="108.44" y2="244.00" class="gl"/>
<line x1="121.96" y1="222.10" x2="121.96" y2="244.00" class="gl"/>
<line x1="135.48" y1="222.10" x2="135.48" y2="244.00" class="gl"/>
<line x1="149.00" y1="222.10" x2="149.00" y2="244.00" class="gl"/>
<line x1="162.52" y1="222.10" x2="162.52" y2="244.00" class="gl"/>
<line x1="176.04" y1="222.10" x2="176.04" y2="244.00" class="gl"/>
<text x="13.70" y="256.90" class="ti">Lectin associated</text>
<rect x="13.80" y="258.50" width="13.52" height="10.95" fill="#1E63B9"/>
<rect x="27.32" y="258.50" width="13.52" height="10.95" fill="#FEE394"/>
<rect x="40.84" y="258.50" width="13.52" height="10.95" fill="#FDB668"/>
<rect x="54.36" y="258.50" width="13.52" height="10.95" fill="#FB9250"/>
<rect x="67.88" y="258.50" width="13.52" height="10.95" fill="#FFF9B6"/>
<rect x="81.40" y="258.50" width="13.52" height="10.95" fill="#F5FCD1"/>
<rect x="94.92" y="258.50" width="13.52" height="10.95" fill="#1D73C0"/>
<rect x="108.44" y="258.50" width="13.52" height="10.95" fill="#F35630"/>
<rect x="121.96" y="258.50" width="13.52" height="10.95" fill="#FC9F58"/>
<rect x="135.48" y="258.50" width="13.52" height="10.95" fill="#FEECA2"/>
<rect x="149.00" y="258.50" width="13.52" height="10.95" fill="#FFF3AD"/>
<rect x="162.52" y="258.50" width="13.52" height="10.95" fill="#FFFFBF"/>
<rect x="13.80" y="269.45" width="13.52" height="10.95" fill="#1D6BBC"/>
<rect x="27.32" y="269.45" width="13.52" height="10.95" fill="#FFF2AC"/>
<rect x="40.84" y="269.45" width="13.52" height="10.95" fill="#F56034"/>
<rect x="54.36" y="269.45" width="13.52" height="10.95" fill="#F86938"/>
<rect x="67.88" y="269.45" width="13.52" height="10.95" fill="#FEECA2"/>
<rect x="81.40" y="269.45" width="13.52" height="10.95" fill="#FEEFA7"/>
<rect x="94.92" y="269.45" width="13.52" height="10.95" fill="#4096D3"/>
<rect x="108.44" y="269.45" width="13.52" height="10.95" fill="#FDB96B"/>
<rect x="121.96" y="269.45" width="13.52" height="10.95" fill="#FB9451"/>
<rect x="135.48" y="269.45" width="13.52" height="10.95" fill="#FED787"/>
<rect x="149.00" y="269.45" width="13.52" height="10.95" fill="#E0F4F6"/>
<rect x="162.52" y="269.45" width="13.52" height="10.95" fill="#CCEAF3"/>
<rect x="13.80" y="280.40" width="13.52" height="10.95" fill="#1E47AE"/>
<rect x="27.32" y="280.40" width="13.52" height="10.95" fill="#9FD4EC"/>
<rect x="40.84" y="280.40" width="13.52" height="10.95" fill="#F8FDCC"/>
<rect x="54.36" y="280.40" width="13.52" height="10.95" fill="#FDB769"/>
<rect x="67.88" y="280.40" width="13.52" height="10.95" fill="#FED282"/>
<rect x="81.40" y="280.40" width="13.52" height="10.95" fill="#FDFEC3"/>
<rect x="94.92" y="280.40" width="13.52" height="10.95" fill="#52A8DC"/>
<rect x="108.44" y="280.40" width="13.52" height="10.95" fill="#FA884A"/>
<rect x="121.96" y="280.40" width="13.52" height="10.95" fill="#FCA45B"/>
<rect x="135.48" y="280.40" width="13.52" height="10.95" fill="#FDAE61"/>
<rect x="149.00" y="280.40" width="13.52" height="10.95" fill="#FCA65C"/>
<rect x="162.52" y="280.40" width="13.52" height="10.95" fill="#FED384"/>
<rect x="13.80" y="291.35" width="13.52" height="10.95" fill="#2A81C7"/>
<rect x="27.32" y="291.35" width="13.52" height="10.95" fill="#66B3E0"/>
<rect x="40.84" y="291.35" width="13.52" height="10.95" fill="#FFFCBB"/>
<rect x="54.36" y="291.35" width="13.52" height="10.95" fill="#FDB365"/>
<rect x="67.88" y="291.35" width="13.52" height="10.95" fill="#FEE495"/>
<rect x="81.40" y="291.35" width="13.52" height="10.95" fill="#FFFDBC"/>
<rect x="94.92" y="291.35" width="13.52" height="10.95" fill="#3F95D2"/>
<rect x="108.44" y="291.35" width="13.52" height="10.95" fill="#FEEDA3"/>
<rect x="121.96" y="291.35" width="13.52" height="10.95" fill="#FA884A"/>
<rect x="135.48" y="291.35" width="13.52" height="10.95" fill="#FB914F"/>
<rect x="149.00" y="291.35" width="13.52" height="10.95" fill="#FB8D4D"/>
<rect x="162.52" y="291.35" width="13.52" height="10.95" fill="#FCA45B"/>
<text x="20.56" y="265.98" class="nm">-1.94</text>
<text x="34.08" y="265.98" class="nm">0.28</text>
<text x="47.60" y="265.98" class="nm">0.68</text>
<text x="61.12" y="265.98" class="nm">0.91</text>
<text x="74.64" y="265.98" class="nm">-0.03</text>
<text x="88.16" y="265.98" class="nm">-0.26</text>
<text x="101.68" y="265.98" class="nm">-1.84</text>
<text x="115.20" y="265.98" class="nm">1.30</text>
<text x="128.72" y="265.98" class="nm">0.83</text>
<text x="142.24" y="265.98" class="nm">0.15</text>
<text x="155.76" y="265.98" class="nm">0.05</text>
<text x="169.28" y="265.98" class="nm">-0.12</text>
<text x="177.00" y="266.68" class="lb">Os04g32950 (CNX)</text>
<text x="20.56" y="276.93" class="nm">-1.89</text>
<text x="34.08" y="276.93" class="nm">0.06</text>
<text x="47.60" y="276.93" class="nm">1.23</text>
<text x="61.12" y="276.93" class="nm">1.16</text>
<text x="74.64" y="276.93" class="nm">0.15</text>
<text x="88.16" y="276.93" class="nm">0.11</text>
<text x="101.68" y="276.93" class="nm">-1.55</text>
<text x="115.20" y="276.93" class="nm">0.65</text>
<text x="128.72" y="276.93" class="nm">0.90</text>
<text x="142.24" y="276.93" class="nm">0.40</text>
<text x="155.76" y="276.93" class="nm">-0.55</text>
<text x="169.28" y="276.93" class="nm">-0.68</text>
<text x="177.00" y="277.62" class="lb">Os03g61670 (CRT)</text>
<text x="20.56" y="287.88" class="nm">-2.11</text>
<text x="34.08" y="287.88" class="nm">-0.96</text>
<text x="47.60" y="287.88" class="nm">-0.22</text>
<text x="61.12" y="287.88" class="nm">0.67</text>
<text x="74.64" y="287.88" class="nm">0.44</text>
<text x="88.16" y="287.88" class="nm">-0.15</text>
<text x="101.68" y="287.88" class="nm">-1.41</text>
<text x="115.20" y="287.88" class="nm">0.97</text>
<text x="128.72" y="287.88" class="nm">0.80</text>
<text x="142.24" y="287.88" class="nm">0.74</text>
<text x="155.76" y="287.88" class="nm">0.79</text>
<text x="169.28" y="287.88" class="nm">0.43</text>
<text x="177.00" y="288.57" class="lb">Os07g14270 (CRT)</text>
<text x="20.56" y="298.83" class="nm">-1.73</text>
<text x="34.08" y="298.83" class="nm">-1.29</text>
<text x="47.60" y="298.83" class="nm">-0.08</text>
<text x="61.12" y="298.83" class="nm">0.70</text>
<text x="74.64" y="298.83" class="nm">0.27</text>
<text x="88.16" y="298.83" class="nm">-0.09</text>
<text x="101.68" y="298.83" class="nm">-1.56</text>
<text x="115.20" y="298.83" class="nm">0.14</text>
<text x="128.72" y="298.83" class="nm">0.97</text>
<text x="142.24" y="298.83" class="nm">0.92</text>
<text x="155.76" y="298.83" class="nm">0.94</text>
<text x="169.28" y="298.83" class="nm">0.80</text>
<text x="177.00" y="299.53" class="lb">Os01g67054 (CRT)</text>
<line x1="13.80" y1="258.50" x2="176.04" y2="258.50" class="gl"/>
<line x1="13.80" y1="269.45" x2="176.04" y2="269.45" class="gl"/>
<line x1="13.80" y1="280.40" x2="176.04" y2="280.40" class="gl"/>
<line x1="13.80" y1="291.35" x2="176.04" y2="291.35" class="gl"/>
<line x1="13.80" y1="302.30" x2="176.04" y2="302.30" class="gl"/>
<line x1="13.80" y1="258.50" x2="13.80" y2="302.30" class="gl"/>
<line x1="27.32" y1="258.50" x2="27.32" y2="302.30" class="gl"/>
<line x1="40.84" y1="258.50" x2="40.84" y2="302.30" class="gl"/>
<line x1="54.36" y1="258.50" x2="54.36" y2="302.30" class="gl"/>
<line x1="67.88" y1="258.50" x2="67.88" y2="302.30" class="gl"/>
<line x1="81.40" y1="258.50" x2="81.40" y2="302.30" class="gl"/>
<line x1="94.92" y1="258.50" x2="94.92" y2="302.30" class="gl"/>
<line x1="108.44" y1="258.50" x2="108.44" y2="302.30" class="gl"/>
<line x1="121.96" y1="258.50" x2="121.96" y2="302.30" class="gl"/>
<line x1="135.48" y1="258.50" x2="135.48" y2="302.30" class="gl"/>
<line x1="149.00" y1="258.50" x2="149.00" y2="302.30" class="gl"/>
<line x1="162.52" y1="258.50" x2="162.52" y2="302.30" class="gl"/>
<line x1="176.04" y1="258.50" x2="176.04" y2="302.30" class="gl"/>
<text x="13.70" y="312.60" class="ti">Protein targeting</text>
<rect x="13.80" y="314.80" width="13.52" height="10.95" fill="#2F85C9"/>
<rect x="27.32" y="314.80" width="13.52" height="10.95" fill="#FED989"/>
<rect x="40.84" y="314.80" width="13.52" height="10.95" fill="#FDA95E"/>
<rect x="54.36" y="314.80" width="13.52" height="10.95" fill="#FB9451"/>
<rect x="67.88" y="314.80" width="13.52" height="10.95" fill="#EDF9DF"/>
<rect x="81.40" y="314.80" width="13.52" height="10.95" fill="#B2DDEF"/>
<rect x="94.92" y="314.80" width="13.52" height="10.95" fill="#297FC6"/>
<rect x="108.44" y="314.80" width="13.52" height="10.95" fill="#F1502D"/>
<rect x="121.96" y="314.80" width="13.52" height="10.95" fill="#FB9250"/>
<rect x="135.48" y="314.80" width="13.52" height="10.95" fill="#FEE79A"/>
<rect x="149.00" y="314.80" width="13.52" height="10.95" fill="#FFF4AE"/>
<rect x="162.52" y="314.80" width="13.52" height="10.95" fill="#FFF3AD"/>
<rect x="13.80" y="325.75" width="13.52" height="10.95" fill="#52A8DC"/>
<rect x="27.32" y="325.75" width="13.52" height="10.95" fill="#368DCD"/>
<rect x="40.84" y="325.75" width="13.52" height="10.95" fill="#CAE9F3"/>
<rect x="54.36" y="325.75" width="13.52" height="10.95" fill="#F86B39"/>
<rect x="67.88" y="325.75" width="13.52" height="10.95" fill="#F97D43"/>
<rect x="81.40" y="325.75" width="13.52" height="10.95" fill="#FDC475"/>
<rect x="94.92" y="325.75" width="13.52" height="10.95" fill="#71B9E3"/>
<rect x="108.44" y="325.75" width="13.52" height="10.95" fill="#FFF3AD"/>
<rect x="121.96" y="325.75" width="13.52" height="10.95" fill="#FFF1AA"/>
<rect x="135.48" y="325.75" width="13.52" height="10.95" fill="#FDC173"/>
<rect x="149.00" y="325.75" width="13.52" height="10.95" fill="#F97D43"/>
<rect x="162.52" y="325.75" width="13.52" height="10.95" fill="#FED282"/>
<rect x="13.80" y="336.70" width="13.52" height="10.95" fill="#FFF8B5"/>
<rect x="27.32" y="336.70" width="13.52" height="10.95" fill="#8CC9E9"/>
<rect x="40.84" y="336.70" width="13.52" height="10.95" fill="#85C5E7"/>
<rect x="54.36" y="336.70" width="13.52" height="10.95" fill="#FDC778"/>
<rect x="67.88" y="336.70" width="13.52" height="10.95" fill="#F97B42"/>
<rect x="81.40" y="336.70" width="13.52" height="10.95" fill="#FA8A4B"/>
<rect x="94.92" y="336.70" width="13.52" height="10.95" fill="#FEEFA7"/>
<rect x="108.44" y="336.70" width="13.52" height="10.95" fill="#1D74C0"/>
<rect x="121.96" y="336.70" width="13.52" height="10.95" fill="#AFDBEF"/>
<rect x="135.48" y="336.70" width="13.52" height="10.95" fill="#FECE7F"/>
<rect x="149.00" y="336.70" width="13.52" height="10.95" fill="#FA8246"/>
<rect x="162.52" y="336.70" width="13.52" height="10.95" fill="#FB9753"/>
<rect x="13.80" y="347.65" width="13.52" height="10.95" fill="#1E46AE"/>
<rect x="27.32" y="347.65" width="13.52" height="10.95" fill="#FAFDC9"/>
<rect x="40.84" y="347.65" width="13.52" height="10.95" fill="#FED586"/>
<rect x="54.36" y="347.65" width="13.52" height="10.95" fill="#FDC072"/>
<rect x="67.88" y="347.65" width="13.52" height="10.95" fill="#FECA7B"/>
<rect x="81.40" y="347.65" width="13.52" height="10.95" fill="#FDB769"/>
<rect x="94.92" y="347.65" width="13.52" height="10.95" fill="#4399D4"/>
<rect x="108.44" y="347.65" width="13.52" height="10.95" fill="#B2DDEF"/>
<rect x="121.96" y="347.65" width="13.52" height="10.95" fill="#FB9954"/>
<rect x="135.48" y="347.65" width="13.52" height="10.95" fill="#F97F44"/>
<rect x="149.00" y="347.65" width="13.52" height="10.95" fill="#FFF5B0"/>
<rect x="162.52" y="347.65" width="13.52" height="10.95" fill="#FDC072"/>
<rect x="13.80" y="358.60" width="13.52" height="10.95" fill="#257CC4"/>
<rect x="27.32" y="358.60" width="13.52" height="10.95" fill="#FFFCBB"/>
<rect x="40.84" y="358.60" width="13.52" height="10.95" fill="#FFF3AD"/>
<rect x="54.36" y="358.60" width="13.52" height="10.95" fill="#F86D3A"/>
<rect x="67.88" y="358.60" width="13.52" height="10.95" fill="#FFFAB8"/>
<rect x="81.40" y="358.60" width="13.52" height="10.95" fill="#D2EDF4"/>
<rect x="94.92" y="358.60" width="13.52" height="10.95" fill="#3E94D1"/>
<rect x="108.44" y="358.60" width="13.52" height="10.95" fill="#E02822"/>
<rect x="121.96" y="358.60" width="13.52" height="10.95" fill="#FA8C4C"/>
<rect x="135.48" y="358.60" width="13.52" height="10.95" fill="#FED989"/>
<rect x="149.00" y="358.60" width="13.52" height="10.95" fill="#FEEA9E"/>
<rect x="162.52" y="358.60" width="13.52" height="10.95" fill="#FAFDC9"/>
<text x="20.56" y="322.28" class="nm">-1.69</text>
<text x="34.08" y="322.28" class="nm">0.38</text>
<text x="47.60" y="322.28" class="nm">0.77</text>
<text x="61.12" y="322.28" class="nm">0.90</text>
<text x="74.64" y="322.28" class="nm">-0.37</text>
<text x="88.16" y="322.28" class="nm">-0.84</text>
<text x="101.68" y="322.28" class="nm">-1.74</text>
<text x="115.20" y="322.28" class="nm">1.35</text>
<text x="128.72" y="322.28" class="nm">0.91</text>
<text x="142.24" y="322.28" class="nm">0.23</text>
<text x="155.76" y="322.28" class="nm">0.04</text>
<text x="169.28" y="322.28" class="nm">0.05</text>
<text x="177.00" y="322.98" class="lb">Os03g52340 (Ero1)</text>
<text x="20.56" y="333.23" class="nm">-1.41</text>
<text x="34.08" y="333.23" class="nm">-1.63</text>
<text x="47.60" y="333.23" class="nm">-0.69</text>
<text x="61.12" y="333.23" class="nm">1.15</text>
<text x="74.64" y="333.23" class="nm">1.04</text>
<text x="88.16" y="333.23" class="nm">0.56</text>
<text x="101.68" y="333.23" class="nm">-1.23</text>
<text x="115.20" y="333.23" class="nm">0.05</text>
<text x="128.72" y="333.23" class="nm">0.08</text>
<text x="142.24" y="333.23" class="nm">0.58</text>
<text x="155.76" y="333.23" class="nm">1.04</text>
<text x="169.28" y="333.23" class="nm">0.44</text>
<text x="177.00" y="333.93" class="lb">Os11g09280 (PDIs)</text>
<text x="20.56" y="344.18" class="nm">-0.02</text>
<text x="34.08" y="344.18" class="nm">-1.07</text>
<text x="47.60" y="344.18" class="nm">-1.11</text>
<text x="61.12" y="344.18" class="nm">0.53</text>
<text x="74.64" y="344.18" class="nm">1.05</text>
<text x="88.16" y="344.18" class="nm">0.96</text>
<text x="101.68" y="344.18" class="nm">0.11</text>
<text x="115.20" y="344.18" class="nm">-1.83</text>
<text x="128.72" y="344.18" class="nm">-0.86</text>
<text x="142.24" y="344.18" class="nm">0.47</text>
<text x="155.76" y="344.18" class="nm">1.01</text>
<text x="169.28" y="344.18" class="nm">0.88</text>
<text x="177.00" y="344.88" class="lb">Os02g34530 (PDIs)</text>
<text x="20.56" y="355.12" class="nm">-2.12</text>
<text x="34.08" y="355.12" class="nm">-0.20</text>
<text x="47.60" y="355.12" class="nm">0.41</text>
<text x="61.12" y="355.12" class="nm">0.59</text>
<text x="74.64" y="355.12" class="nm">0.51</text>
<text x="88.16" y="355.12" class="nm">0.67</text>
<text x="101.68" y="355.12" class="nm">-1.53</text>
<text x="115.20" y="355.12" class="nm">-0.84</text>
<text x="128.72" y="355.12" class="nm">0.87</text>
<text x="142.24" y="355.12" class="nm">1.03</text>
<text x="155.76" y="355.12" class="nm">0.02</text>
<text x="169.28" y="355.12" class="nm">0.59</text>
<text x="177.00" y="355.82" class="lb">Os02g34940 (PDIs)</text>
<text x="20.56" y="366.08" class="nm">-1.77</text>
<text x="34.08" y="366.08" class="nm">-0.08</text>
<text x="47.60" y="366.08" class="nm">0.05</text>
<text x="61.12" y="366.08" class="nm">1.14</text>
<text x="74.64" y="366.08" class="nm">-0.05</text>
<text x="88.16" y="366.08" class="nm">-0.64</text>
<text x="101.68" y="366.08" class="nm">-1.57</text>
<text x="115.20" y="366.08" class="nm">1.69</text>
<text x="128.72" y="366.08" class="nm">0.95</text>
<text x="142.24" y="366.08" class="nm">0.38</text>
<text x="155.76" y="366.08" class="nm">0.19</text>
<text x="169.28" y="366.08" class="nm">-0.20</text>
<text x="177.00" y="366.78" class="lb">Os09g27830 (PDIs)</text>
<line x1="13.80" y1="314.80" x2="176.04" y2="314.80" class="gl"/>
<line x1="13.80" y1="325.75" x2="176.04" y2="325.75" class="gl"/>
<line x1="13.80" y1="336.70" x2="176.04" y2="336.70" class="gl"/>
<line x1="13.80" y1="347.65" x2="176.04" y2="347.65" class="gl"/>
<line x1="13.80" y1="358.60" x2="176.04" y2="358.60" class="gl"/>
<line x1="13.80" y1="369.55" x2="176.04" y2="369.55" class="gl"/>
<line x1="13.80" y1="314.80" x2="13.80" y2="369.55" class="gl"/>
<line x1="27.32" y1="314.80" x2="27.32" y2="369.55" class="gl"/>
<line x1="40.84" y1="314.80" x2="40.84" y2="369.55" class="gl"/>
<line x1="54.36" y1="314.80" x2="54.36" y2="369.55" class="gl"/>
<line x1="67.88" y1="314.80" x2="67.88" y2="369.55" class="gl"/>
<line x1="81.40" y1="314.80" x2="81.40" y2="369.55" class="gl"/>
<line x1="94.92" y1="314.80" x2="94.92" y2="369.55" class="gl"/>
<line x1="108.44" y1="314.80" x2="108.44" y2="369.55" class="gl"/>
<line x1="121.96" y1="314.80" x2="121.96" y2="369.55" class="gl"/>
<line x1="135.48" y1="314.80" x2="135.48" y2="369.55" class="gl"/>
<line x1="149.00" y1="314.80" x2="149.00" y2="369.55" class="gl"/>
<line x1="162.52" y1="314.80" x2="162.52" y2="369.55" class="gl"/>
<line x1="176.04" y1="314.80" x2="176.04" y2="369.55" class="gl"/>
<text x="13.70" y="385.80" class="ti">Protein recognition by luminal chaperones</text>
<rect x="13.80" y="388.30" width="13.52" height="10.95" fill="#1D71BF"/>
<rect x="27.32" y="388.30" width="13.52" height="10.95" fill="#FEDF8F"/>
<rect x="40.84" y="388.30" width="13.52" height="10.95" fill="#FCA35A"/>
<rect x="54.36" y="388.30" width="13.52" height="10.95" fill="#FC9E57"/>
<rect x="67.88" y="388.30" width="13.52" height="10.95" fill="#FCFEC6"/>
<rect x="81.40" y="388.30" width="13.52" height="10.95" fill="#CCEAF3"/>
<rect x="94.92" y="388.30" width="13.52" height="10.95" fill="#2A81C7"/>
<rect x="108.44" y="388.30" width="13.52" height="10.95" fill="#F97B42"/>
<rect x="121.96" y="388.30" width="13.52" height="10.95" fill="#F86E3B"/>
<rect x="135.48" y="388.30" width="13.52" height="10.95" fill="#FED888"/>
<rect x="149.00" y="388.30" width="13.52" height="10.95" fill="#FEECA1"/>
<rect x="162.52" y="388.30" width="13.52" height="10.95" fill="#F4FBD4"/>
<rect x="13.80" y="399.25" width="13.52" height="10.95" fill="#3F95D2"/>
<rect x="27.32" y="399.25" width="13.52" height="10.95" fill="#E2F5F3"/>
<rect x="40.84" y="399.25" width="13.52" height="10.95" fill="#FAFDC9"/>
<rect x="54.36" y="399.25" width="13.52" height="10.95" fill="#ECF8E0"/>
<rect x="67.88" y="399.25" width="13.52" height="10.95" fill="#FB9451"/>
<rect x="81.40" y="399.25" width="13.52" height="10.95" fill="#FA8246"/>
<rect x="94.92" y="399.25" width="13.52" height="10.95" fill="#1E57B5"/>
<rect x="108.44" y="399.25" width="13.52" height="10.95" fill="#FFF4AE"/>
<rect x="121.96" y="399.25" width="13.52" height="10.95" fill="#FEEBA0"/>
<rect x="135.48" y="399.25" width="13.52" height="10.95" fill="#FDAE61"/>
<rect x="149.00" y="399.25" width="13.52" height="10.95" fill="#FC9F58"/>
<rect x="162.52" y="399.25" width="13.52" height="10.95" fill="#FA8749"/>
<rect x="13.80" y="410.20" width="13.52" height="10.95" fill="#257CC4"/>
<rect x="27.32" y="410.20" width="13.52" height="10.95" fill="#FEE89C"/>
<rect x="40.84" y="410.20" width="13.52" height="10.95" fill="#FEDF8F"/>
<rect x="54.36" y="410.20" width="13.52" height="10.95" fill="#FEDB8B"/>
<rect x="67.88" y="410.20" width="13.52" height="10.95" fill="#FFFBBA"/>
<rect x="81.40" y="410.20" width="13.52" height="10.95" fill="#FFF7B4"/>
<rect x="94.92" y="410.20" width="13.52" height="10.95" fill="#1F3CAA"/>
<rect x="108.44" y="410.20" width="13.52" height="10.95" fill="#FB9954"/>
<rect x="121.96" y="410.20" width="13.52" height="10.95" fill="#F86B39"/>
<rect x="135.48" y="410.20" width="13.52" height="10.95" fill="#FCA159"/>
<rect x="149.00" y="410.20" width="13.52" height="10.95" fill="#FEE597"/>
<rect x="162.52" y="410.20" width="13.52" height="10.95" fill="#FFF3AD"/>
<rect x="13.80" y="421.15" width="13.52" height="10.95" fill="#348ACC"/>
<rect x="27.32" y="421.15" width="13.52" height="10.95" fill="#FB9B55"/>
<rect x="40.84" y="421.15" width="13.52" height="10.95" fill="#FCA159"/>
<rect x="54.36" y="421.15" width="13.52" height="10.95" fill="#FFF8B5"/>
<rect x="67.88" y="421.15" width="13.52" height="10.95" fill="#E5F6ED"/>
<rect x="81.40" y="421.15" width="13.52" height="10.95" fill="#F9FDCB"/>
<rect x="94.92" y="421.15" width="13.52" height="10.95" fill="#2C83C8"/>
<rect x="108.44" y="421.15" width="13.52" height="10.95" fill="#EB3B24"/>
<rect x="121.96" y="421.15" width="13.52" height="10.95" fill="#F97B42"/>
<rect x="135.48" y="421.15" width="13.52" height="10.95" fill="#FDFEC3"/>
<rect x="149.00" y="421.15" width="13.52" height="10.95" fill="#F2FAD6"/>
<rect x="162.52" y="421.15" width="13.52" height="10.95" fill="#FEE393"/>
<rect x="13.80" y="432.10" width="13.52" height="10.95" fill="#1D66BA"/>
<rect x="27.32" y="432.10" width="13.52" height="10.95" fill="#FED181"/>
<rect x="40.84" y="432.10" width="13.52" height="10.95" fill="#FCA35A"/>
<rect x="54.36" y="432.10" width="13.52" height="10.95" fill="#F9753E"/>
<rect x="67.88" y="432.10" width="13.52" height="10.95" fill="#FEECA2"/>
<rect x="81.40" y="432.10" width="13.52" height="10.95" fill="#EEF9DE"/>
<rect x="94.92" y="432.10" width="13.52" height="10.95" fill="#277EC5"/>
<rect x="108.44" y="432.10" width="13.52" height="10.95" fill="#F86B39"/>
<rect x="121.96" y="432.10" width="13.52" height="10.95" fill="#FDB668"/>
<rect x="135.48" y="432.10" width="13.52" height="10.95" fill="#FEEFA7"/>
<rect x="149.00" y="432.10" width="13.52" height="10.95" fill="#FEF0A9"/>
<rect x="162.52" y="432.10" width="13.52" height="10.95" fill="#E4F5EF"/>
<rect x="13.80" y="443.05" width="13.52" height="10.95" fill="#1D66BA"/>
<rect x="27.32" y="443.05" width="13.52" height="10.95" fill="#FEE698"/>
<rect x="40.84" y="443.05" width="13.52" height="10.95" fill="#FDC173"/>
<rect x="54.36" y="443.05" width="13.52" height="10.95" fill="#FA8A4B"/>
<rect x="67.88" y="443.05" width="13.52" height="10.95" fill="#FAFDC8"/>
<rect x="81.40" y="443.05" width="13.52" height="10.95" fill="#F1FAD9"/>
<rect x="94.92" y="443.05" width="13.52" height="10.95" fill="#2178C2"/>
<rect x="108.44" y="443.05" width="13.52" height="10.95" fill="#F86B39"/>
<rect x="121.96" y="443.05" width="13.52" height="10.95" fill="#F8703C"/>
<rect x="135.48" y="443.05" width="13.52" height="10.95" fill="#FEEA9F"/>
<rect x="149.00" y="443.05" width="13.52" height="10.95" fill="#FFFCBB"/>
<rect x="162.52" y="443.05" width="13.52" height="10.95" fill="#FFF2AB"/>
<text x="20.56" y="395.78" class="nm">-1.85</text>
<text x="34.08" y="395.78" class="nm">0.33</text>
<text x="47.60" y="395.78" class="nm">0.81</text>
<text x="61.12" y="395.78" class="nm">0.84</text>
<text x="74.64" y="395.78" class="nm">-0.17</text>
<text x="88.16" y="395.78" class="nm">-0.68</text>
<text x="101.68" y="395.78" class="nm">-1.73</text>
<text x="115.20" y="395.78" class="nm">1.05</text>
<text x="128.72" y="395.78" class="nm">1.13</text>
<text x="142.24" y="395.78" class="nm">0.39</text>
<text x="155.76" y="395.78" class="nm">0.16</text>
<text x="169.28" y="395.78" class="nm">-0.28</text>
<text x="177.00" y="396.48" class="lb">Os06g50300 (GRP94)</text>
<text x="20.56" y="406.73" class="nm">-1.56</text>
<text x="34.08" y="406.73" class="nm">-0.53</text>
<text x="47.60" y="406.73" class="nm">-0.20</text>
<text x="61.12" y="406.73" class="nm">-0.38</text>
<text x="74.64" y="406.73" class="nm">0.90</text>
<text x="88.16" y="406.73" class="nm">1.01</text>
<text x="101.68" y="406.73" class="nm">-2.01</text>
<text x="115.20" y="406.73" class="nm">0.04</text>
<text x="128.72" y="406.73" class="nm">0.17</text>
<text x="142.24" y="406.73" class="nm">0.74</text>
<text x="155.76" y="406.73" class="nm">0.83</text>
<text x="169.28" y="406.73" class="nm">0.98</text>
<text x="177.00" y="407.43" class="lb">Os08g38086 (GRP94)</text>
<text x="20.56" y="417.68" class="nm">-1.77</text>
<text x="34.08" y="417.68" class="nm">0.21</text>
<text x="47.60" y="417.68" class="nm">0.33</text>
<text x="61.12" y="417.68" class="nm">0.36</text>
<text x="74.64" y="417.68" class="nm">-0.07</text>
<text x="88.16" y="417.68" class="nm">-0.01</text>
<text x="101.68" y="417.68" class="nm">-2.18</text>
<text x="115.20" y="417.68" class="nm">0.87</text>
<text x="128.72" y="417.68" class="nm">1.15</text>
<text x="142.24" y="417.68" class="nm">0.82</text>
<text x="155.76" y="417.68" class="nm">0.26</text>
<text x="169.28" y="417.68" class="nm">0.05</text>
<text x="177.00" y="418.38" class="lb">Os09g29840 (GRP94)</text>
<text x="20.56" y="428.62" class="nm">-1.65</text>
<text x="34.08" y="428.62" class="nm">0.86</text>
<text x="47.60" y="428.62" class="nm">0.82</text>
<text x="61.12" y="428.62" class="nm">-0.02</text>
<text x="74.64" y="428.62" class="nm">-0.48</text>
<text x="88.16" y="428.62" class="nm">-0.21</text>
<text x="101.68" y="428.62" class="nm">-1.71</text>
<text x="115.20" y="428.62" class="nm">1.50</text>
<text x="128.72" y="428.62" class="nm">1.05</text>
<text x="142.24" y="428.62" class="nm">-0.15</text>
<text x="155.76" y="428.62" class="nm">-0.30</text>
<text x="169.28" y="428.62" class="nm">0.29</text>
<text x="177.00" y="429.32" class="lb">Os12g32986 (GRP94)</text>
<text x="20.56" y="439.58" class="nm">-1.92</text>
<text x="34.08" y="439.58" class="nm">0.45</text>
<text x="47.60" y="439.58" class="nm">0.81</text>
<text x="61.12" y="439.58" class="nm">1.09</text>
<text x="74.64" y="439.58" class="nm">0.15</text>
<text x="88.16" y="439.58" class="nm">-0.36</text>
<text x="101.68" y="439.58" class="nm">-1.75</text>
<text x="115.20" y="439.58" class="nm">1.15</text>
<text x="128.72" y="439.58" class="nm">0.68</text>
<text x="142.24" y="439.58" class="nm">0.11</text>
<text x="155.76" y="439.58" class="nm">0.09</text>
<text x="169.28" y="439.58" class="nm">-0.50</text>
<text x="177.00" y="440.28" class="lb">Os02g02410 (BiP)</text>
<text x="20.56" y="450.53" class="nm">-1.92</text>
<text x="34.08" y="450.53" class="nm">0.25</text>
<text x="47.60" y="450.53" class="nm">0.58</text>
<text x="61.12" y="450.53" class="nm">0.96</text>
<text x="74.64" y="450.53" class="nm">-0.19</text>
<text x="88.16" y="450.53" class="nm">-0.32</text>
<text x="101.68" y="450.53" class="nm">-1.80</text>
<text x="115.20" y="450.53" class="nm">1.15</text>
<text x="128.72" y="450.53" class="nm">1.12</text>
<text x="142.24" y="450.53" class="nm">0.18</text>
<text x="155.76" y="450.53" class="nm">-0.08</text>
<text x="169.28" y="450.53" class="nm">0.07</text>
<text x="177.00" y="451.23" class="lb">Os05g06440 (Hsp40)</text>
<line x1="13.80" y1="388.30" x2="176.04" y2="388.30" class="gl"/>
<line x1="13.80" y1="399.25" x2="176.04" y2="399.25" class="gl"/>
<line x1="13.80" y1="410.20" x2="176.04" y2="410.20" class="gl"/>
<line x1="13.80" y1="421.15" x2="176.04" y2="421.15" class="gl"/>
<line x1="13.80" y1="432.10" x2="176.04" y2="432.10" class="gl"/>
<line x1="13.80" y1="443.05" x2="176.04" y2="443.05" class="gl"/>
<line x1="13.80" y1="454.00" x2="176.04" y2="454.00" class="gl"/>
<line x1="13.80" y1="388.30" x2="13.80" y2="454.00" class="gl"/>
<line x1="27.32" y1="388.30" x2="27.32" y2="454.00" class="gl"/>
<line x1="40.84" y1="388.30" x2="40.84" y2="454.00" class="gl"/>
<line x1="54.36" y1="388.30" x2="54.36" y2="454.00" class="gl"/>
<line x1="67.88" y1="388.30" x2="67.88" y2="454.00" class="gl"/>
<line x1="81.40" y1="388.30" x2="81.40" y2="454.00" class="gl"/>
<line x1="94.92" y1="388.30" x2="94.92" y2="454.00" class="gl"/>
<line x1="108.44" y1="388.30" x2="108.44" y2="454.00" class="gl"/>
<line x1="121.96" y1="388.30" x2="121.96" y2="454.00" class="gl"/>
<line x1="135.48" y1="388.30" x2="135.48" y2="454.00" class="gl"/>
<line x1="149.00" y1="388.30" x2="149.00" y2="454.00" class="gl"/>
<line x1="162.52" y1="388.30" x2="162.52" y2="454.00" class="gl"/>
<line x1="176.04" y1="388.30" x2="176.04" y2="454.00" class="gl"/>
<text transform="translate(22.26 457.00) rotate(-45)" class="cl">T2_0</text>
<text transform="translate(35.78 457.00) rotate(-45)" class="cl">T2_0.5</text>
<text transform="translate(49.30 457.00) rotate(-45)" class="cl">T2_1</text>
<text transform="translate(62.82 457.00) rotate(-45)" class="cl">T2_3</text>
<text transform="translate(76.34 457.00) rotate(-45)" class="cl">T2_8</text>
<text transform="translate(89.86 457.00) rotate(-45)" class="cl">T2_12</text>
<text transform="translate(103.38 457.00) rotate(-45)" class="cl">T21_0</text>
<text transform="translate(116.90 457.00) rotate(-45)" class="cl">T21_0.5</text>
<text transform="translate(130.42 457.00) rotate(-45)" class="cl">T21_1</text>
<text transform="translate(143.94 457.00) rotate(-45)" class="cl">T21_3</text>
<text transform="translate(157.46 457.00) rotate(-45)" class="cl">T21_8</text>
<text transform="translate(170.98 457.00) rotate(-45)" class="cl">T21_12</text>
<defs><linearGradient id="g248" x1="0" y1="0" x2="0" y2="1"><stop offset="0.000" stop-color="#C80F2A"/><stop offset="0.100" stop-color="#E8301F"/><stop offset="0.200" stop-color="#F86A38"/><stop offset="0.300" stop-color="#FDB062"/><stop offset="0.400" stop-color="#FEE292"/><stop offset="0.500" stop-color="#FFFFC0"/><stop offset="0.600" stop-color="#E0F4F6"/><stop offset="0.700" stop-color="#9CD2EC"/><stop offset="0.800" stop-color="#52A8DC"/><stop offset="0.900" stop-color="#1D74C0"/><stop offset="1.000" stop-color="#1F2FA5"/></linearGradient></defs>
<rect x="248.80" y="225.80" width="5.80" height="85.90" fill="url(#g248)"/>
<text x="257.00" y="228.10" class="lg">2</text>
<text x="257.00" y="248.20" class="lg">1</text>
<text x="257.00" y="268.30" class="lg">0</text>
<text x="257.00" y="288.40" class="lg">-1</text>
<text x="257.00" y="308.50" class="lg">-2</text>
<text x="295.80" y="15.80" class="ti">Dimer formation</text>
<rect x="295.90" y="16.80" width="13.47" height="10.92" fill="#EE4629"/>
<rect x="309.37" y="16.80" width="13.47" height="10.92" fill="#E7F6EA"/>
<rect x="322.84" y="16.80" width="13.47" height="10.92" fill="#1D6CBD"/>
<rect x="336.31" y="16.80" width="13.47" height="10.92" fill="#FEE495"/>
<rect x="349.78" y="16.80" width="13.47" height="10.92" fill="#FFF8B5"/>
<rect x="363.25" y="16.80" width="13.47" height="10.92" fill="#FFFCBB"/>
<rect x="376.72" y="16.80" width="13.47" height="10.92" fill="#E12921"/>
<rect x="390.19" y="16.80" width="13.47" height="10.92" fill="#5AADDE"/>
<rect x="403.66" y="16.80" width="13.47" height="10.92" fill="#AFDBEF"/>
<rect x="417.13" y="16.80" width="13.47" height="10.92" fill="#FDBE6F"/>
<rect x="430.60" y="16.80" width="13.47" height="10.92" fill="#FEE698"/>
<rect x="444.07" y="16.80" width="13.47" height="10.92" fill="#FEE699"/>
<rect x="295.90" y="27.72" width="13.47" height="10.92" fill="#ADDBEF"/>
<rect x="309.37" y="27.72" width="13.47" height="10.92" fill="#2B82C7"/>
<rect x="322.84" y="27.72" width="13.47" height="10.92" fill="#7EC1E6"/>
<rect x="336.31" y="27.72" width="13.47" height="10.92" fill="#FEDC8D"/>
<rect x="349.78" y="27.72" width="13.47" height="10.92" fill="#F8FDCC"/>
<rect x="363.25" y="27.72" width="13.47" height="10.92" fill="#FFFFBF"/>
<rect x="376.72" y="27.72" width="13.47" height="10.92" fill="#C7E7F2"/>
<rect x="390.19" y="27.72" width="13.47" height="10.92" fill="#FFFDBD"/>
<rect x="403.66" y="27.72" width="13.47" height="10.92" fill="#F66435"/>
<rect x="417.13" y="27.72" width="13.47" height="10.92" fill="#FB914F"/>
<rect x="430.60" y="27.72" width="13.47" height="10.92" fill="#F9763F"/>
<rect x="444.07" y="27.72" width="13.47" height="10.92" fill="#F1512D"/>
<text x="302.63" y="24.26" class="nm">1.42</text>
<text x="316.11" y="24.26" class="nm">-0.46</text>
<text x="329.57" y="24.26" class="nm">-1.88</text>
<text x="343.05" y="24.26" class="nm">0.27</text>
<text x="356.51" y="24.26" class="nm">-0.02</text>
<text x="369.99" y="24.26" class="nm">-0.08</text>
<text x="383.45" y="24.26" class="nm">1.67</text>
<text x="396.93" y="24.26" class="nm">-1.36</text>
<text x="410.39" y="24.26" class="nm">-0.86</text>
<text x="423.87" y="24.26" class="nm">0.61</text>
<text x="437.34" y="24.26" class="nm">0.25</text>
<text x="450.81" y="24.26" class="nm">0.24</text>
<text x="459.60" y="24.96" class="lb">Os02g35820 (PERK)</text>
<text x="302.63" y="35.18" class="nm">-0.87</text>
<text x="316.11" y="35.18" class="nm">-1.72</text>
<text x="329.57" y="35.18" class="nm">-1.15</text>
<text x="343.05" y="35.18" class="nm">0.35</text>
<text x="356.51" y="35.18" class="nm">-0.22</text>
<text x="369.99" y="35.18" class="nm">-0.12</text>
<text x="383.45" y="35.18" class="nm">-0.71</text>
<text x="396.93" y="35.18" class="nm">-0.10</text>
<text x="410.39" y="35.18" class="nm">1.20</text>
<text x="423.87" y="35.18" class="nm">0.92</text>
<text x="437.34" y="35.18" class="nm">1.08</text>
<text x="450.81" y="35.18" class="nm">1.34</text>
<text x="459.60" y="35.88" class="lb">Os07g28820 (IRE1)</text>
<line x1="295.90" y1="16.80" x2="457.54" y2="16.80" class="gl"/>
<line x1="295.90" y1="27.72" x2="457.54" y2="27.72" class="gl"/>
<line x1="295.90" y1="38.64" x2="457.54" y2="38.64" class="gl"/>
<line x1="295.90" y1="16.80" x2="295.90" y2="38.64" class="gl"/>
<line x1="309.37" y1="16.80" x2="309.37" y2="38.64" class="gl"/>
<line x1="322.84" y1="16.80" x2="322.84" y2="38.64" class="gl"/>
<line x1="336.31" y1="16.80" x2="336.31" y2="38.64" class="gl"/>
<line x1="349.78" y1="16.80" x2="349.78" y2="38.64" class="gl"/>
<line x1="363.25" y1="16.80" x2="363.25" y2="38.64" class="gl"/>
<line x1="376.72" y1="16.80" x2="376.72" y2="38.64" class="gl"/>
<line x1="390.19" y1="16.80" x2="390.19" y2="38.64" class="gl"/>
<line x1="403.66" y1="16.80" x2="403.66" y2="38.64" class="gl"/>
<line x1="417.13" y1="16.80" x2="417.13" y2="38.64" class="gl"/>
<line x1="430.60" y1="16.80" x2="430.60" y2="38.64" class="gl"/>
<line x1="444.07" y1="16.80" x2="444.07" y2="38.64" class="gl"/>
<line x1="457.54" y1="16.80" x2="457.54" y2="38.64" class="gl"/>
<text x="295.80" y="47.00" class="ti">Terminally misfolded</text>
<rect x="295.90" y="48.80" width="13.47" height="11.00" fill="#F45D32"/>
<rect x="309.37" y="48.80" width="13.47" height="11.00" fill="#8ECAE9"/>
<rect x="322.84" y="48.80" width="13.47" height="11.00" fill="#4399D4"/>
<rect x="336.31" y="48.80" width="13.47" height="11.00" fill="#63B1E0"/>
<rect x="349.78" y="48.80" width="13.47" height="11.00" fill="#FDAD60"/>
<rect x="363.25" y="48.80" width="13.47" height="11.00" fill="#FEEEA6"/>
<rect x="376.72" y="48.80" width="13.47" height="11.00" fill="#ED4126"/>
<rect x="390.19" y="48.80" width="13.47" height="11.00" fill="#FAFDC8"/>
<rect x="403.66" y="48.80" width="13.47" height="11.00" fill="#D4EEF4"/>
<rect x="417.13" y="48.80" width="13.47" height="11.00" fill="#F97D43"/>
<rect x="430.60" y="48.80" width="13.47" height="11.00" fill="#FEE191"/>
<rect x="444.07" y="48.80" width="13.47" height="11.00" fill="#FCFEC4"/>
<text x="302.63" y="56.30" class="nm">1.25</text>
<text x="316.11" y="56.30" class="nm">-1.06</text>
<text x="329.57" y="56.30" class="nm">-1.53</text>
<text x="343.05" y="56.30" class="nm">-1.31</text>
<text x="356.51" y="56.30" class="nm">0.75</text>
<text x="369.99" y="56.30" class="nm">0.12</text>
<text x="383.45" y="56.30" class="nm">1.46</text>
<text x="396.93" y="56.30" class="nm">-0.19</text>
<text x="410.39" y="56.30" class="nm">-0.63</text>
<text x="423.87" y="56.30" class="nm">1.04</text>
<text x="437.34" y="56.30" class="nm">0.31</text>
<text x="450.81" y="56.30" class="nm">-0.16</text>
<text x="459.60" y="57.00" class="lb">Os01g56670 (EDEM)</text>
<line x1="295.90" y1="48.80" x2="457.54" y2="48.80" class="gl"/>
<line x1="295.90" y1="59.80" x2="457.54" y2="59.80" class="gl"/>
<line x1="295.90" y1="48.80" x2="295.90" y2="59.80" class="gl"/>
<line x1="309.37" y1="48.80" x2="309.37" y2="59.80" class="gl"/>
<line x1="322.84" y1="48.80" x2="322.84" y2="59.80" class="gl"/>
<line x1="336.31" y1="48.80" x2="336.31" y2="59.80" class="gl"/>
<line x1="349.78" y1="48.80" x2="349.78" y2="59.80" class="gl"/>
<line x1="363.25" y1="48.80" x2="363.25" y2="59.80" class="gl"/>
<line x1="376.72" y1="48.80" x2="376.72" y2="59.80" class="gl"/>
<line x1="390.19" y1="48.80" x2="390.19" y2="59.80" class="gl"/>
<line x1="403.66" y1="48.80" x2="403.66" y2="59.80" class="gl"/>
<line x1="417.13" y1="48.80" x2="417.13" y2="59.80" class="gl"/>
<line x1="430.60" y1="48.80" x2="430.60" y2="59.80" class="gl"/>
<line x1="444.07" y1="48.80" x2="444.07" y2="59.80" class="gl"/>
<line x1="457.54" y1="48.80" x2="457.54" y2="59.80" class="gl"/>
<text x="295.80" y="68.00" class="ti">Ubiquitin ligase complex</text>
<rect x="295.90" y="70.00" width="13.47" height="10.92" fill="#50A6DB"/>
<rect x="309.37" y="70.00" width="13.47" height="10.92" fill="#F55F33"/>
<rect x="322.84" y="70.00" width="13.47" height="10.92" fill="#FC9F58"/>
<rect x="336.31" y="70.00" width="13.47" height="10.92" fill="#FEEFA7"/>
<rect x="349.78" y="70.00" width="13.47" height="10.92" fill="#BAE1F0"/>
<rect x="363.25" y="70.00" width="13.47" height="10.92" fill="#E9F7E7"/>
<rect x="376.72" y="70.00" width="13.47" height="10.92" fill="#4399D4"/>
<rect x="390.19" y="70.00" width="13.47" height="10.92" fill="#E32B21"/>
<rect x="403.66" y="70.00" width="13.47" height="10.92" fill="#FA8C4C"/>
<rect x="417.13" y="70.00" width="13.47" height="10.92" fill="#E5F6EE"/>
<rect x="430.60" y="70.00" width="13.47" height="10.92" fill="#FAFDC8"/>
<rect x="444.07" y="70.00" width="13.47" height="10.92" fill="#FEECA1"/>
<rect x="295.90" y="80.92" width="13.47" height="10.92" fill="#5AADDE"/>
<rect x="309.37" y="80.92" width="13.47" height="10.92" fill="#F9763F"/>
<rect x="322.84" y="80.92" width="13.47" height="10.92" fill="#FC9E57"/>
<rect x="336.31" y="80.92" width="13.47" height="10.92" fill="#FED586"/>
<rect x="349.78" y="80.92" width="13.47" height="10.92" fill="#ECF8E0"/>
<rect x="363.25" y="80.92" width="13.47" height="10.92" fill="#FFF4AF"/>
<rect x="376.72" y="80.92" width="13.47" height="10.92" fill="#297FC6"/>
<rect x="390.19" y="80.92" width="13.47" height="10.92" fill="#E42C20"/>
<rect x="403.66" y="80.92" width="13.47" height="10.92" fill="#FDB062"/>
<rect x="417.13" y="80.92" width="13.47" height="10.92" fill="#C8E8F3"/>
<rect x="430.60" y="80.92" width="13.47" height="10.92" fill="#E4F5EF"/>
<rect x="444.07" y="80.92" width="13.47" height="10.92" fill="#FFFAB8"/>
<text x="302.63" y="77.46" class="nm">-1.42</text>
<text x="316.11" y="77.46" class="nm">1.24</text>
<text x="329.57" y="77.46" class="nm">0.83</text>
<text x="343.05" y="77.46" class="nm">0.11</text>
<text x="356.51" y="77.46" class="nm">-0.79</text>
<text x="369.99" y="77.46" class="nm">-0.43</text>
<text x="383.45" y="77.46" class="nm">-1.53</text>
<text x="396.93" y="77.46" class="nm">1.65</text>
<text x="410.39" y="77.46" class="nm">0.95</text>
<text x="423.87" y="77.46" class="nm">-0.49</text>
<text x="437.34" y="77.46" class="nm">-0.19</text>
<text x="450.81" y="77.46" class="nm">0.16</text>
<text x="459.60" y="78.16" class="lb">Os06g30970 (UbcH5)</text>
<text x="302.63" y="88.38" class="nm">-1.36</text>
<text x="316.11" y="88.38" class="nm">1.08</text>
<text x="329.57" y="88.38" class="nm">0.84</text>
<text x="343.05" y="88.38" class="nm">0.41</text>
<text x="356.51" y="88.38" class="nm">-0.38</text>
<text x="369.99" y="88.38" class="nm">0.03</text>
<text x="383.45" y="88.38" class="nm">-1.74</text>
<text x="396.93" y="88.38" class="nm">1.63</text>
<text x="410.39" y="88.38" class="nm">0.73</text>
<text x="423.87" y="88.38" class="nm">-0.70</text>
<text x="437.34" y="88.38" class="nm">-0.50</text>
<text x="450.81" y="88.38" class="nm">-0.05</text>
<text x="459.60" y="89.08" class="lb">Os02g16040 (UbcH5)</text>
<line x1="295.90" y1="70.00" x2="457.54" y2="70.00" class="gl"/>
<line x1="295.90" y1="80.92" x2="457.54" y2="80.92" class="gl"/>
<line x1="295.90" y1="91.84" x2="457.54" y2="91.84" class="gl"/>
<line x1="295.90" y1="70.00" x2="295.90" y2="91.84" class="gl"/>
<line x1="309.37" y1="70.00" x2="309.37" y2="91.84" class="gl"/>
<line x1="322.84" y1="70.00" x2="322.84" y2="91.84" class="gl"/>
<line x1="336.31" y1="70.00" x2="336.31" y2="91.84" class="gl"/>
<line x1="349.78" y1="70.00" x2="349.78" y2="91.84" class="gl"/>
<line x1="363.25" y1="70.00" x2="363.25" y2="91.84" class="gl"/>
<line x1="376.72" y1="70.00" x2="376.72" y2="91.84" class="gl"/>
<line x1="390.19" y1="70.00" x2="390.19" y2="91.84" class="gl"/>
<line x1="403.66" y1="70.00" x2="403.66" y2="91.84" class="gl"/>
<line x1="417.13" y1="70.00" x2="417.13" y2="91.84" class="gl"/>
<line x1="430.60" y1="70.00" x2="430.60" y2="91.84" class="gl"/>
<line x1="444.07" y1="70.00" x2="444.07" y2="91.84" class="gl"/>
<line x1="457.54" y1="70.00" x2="457.54" y2="91.84" class="gl"/>
<text x="295.80" y="99.60" class="ti">ER-associated degradation (ERAD)</text>
<rect x="295.90" y="102.30" width="13.47" height="11.02" fill="#247AC3"/>
<rect x="309.37" y="102.30" width="13.47" height="11.02" fill="#F86E3B"/>
<rect x="322.84" y="102.30" width="13.47" height="11.02" fill="#FC9F58"/>
<rect x="336.31" y="102.30" width="13.47" height="11.02" fill="#FEE597"/>
<rect x="349.78" y="102.30" width="13.47" height="11.02" fill="#F4FBD4"/>
<rect x="363.25" y="102.30" width="13.47" height="11.02" fill="#FEE698"/>
<rect x="376.72" y="102.30" width="13.47" height="11.02" fill="#2077C2"/>
<rect x="390.19" y="102.30" width="13.47" height="11.02" fill="#F86B39"/>
<rect x="403.66" y="102.30" width="13.47" height="11.02" fill="#FDC879"/>
<rect x="417.13" y="102.30" width="13.47" height="11.02" fill="#FFFEBE"/>
<rect x="430.60" y="102.30" width="13.47" height="11.02" fill="#F2FAD6"/>
<rect x="444.07" y="102.30" width="13.47" height="11.02" fill="#FEE292"/>
<rect x="295.90" y="113.32" width="13.47" height="11.02" fill="#1E4CB0"/>
<rect x="309.37" y="113.32" width="13.47" height="11.02" fill="#F6FCD0"/>
<rect x="322.84" y="113.32" width="13.47" height="11.02" fill="#FFFBBA"/>
<rect x="336.31" y="113.32" width="13.47" height="11.02" fill="#FEDB8B"/>
<rect x="349.78" y="113.32" width="13.47" height="11.02" fill="#FED787"/>
<rect x="363.25" y="113.32" width="13.47" height="11.02" fill="#FDAD60"/>
<rect x="376.72" y="113.32" width="13.47" height="11.02" fill="#348ACC"/>
<rect x="390.19" y="113.32" width="13.47" height="11.02" fill="#FED888"/>
<rect x="403.66" y="113.32" width="13.47" height="11.02" fill="#F76536"/>
<rect x="417.13" y="113.32" width="13.47" height="11.02" fill="#FDBA6C"/>
<rect x="430.60" y="113.32" width="13.47" height="11.02" fill="#FFFBBA"/>
<rect x="444.07" y="113.32" width="13.47" height="11.02" fill="#FDC072"/>
<rect x="295.90" y="124.33" width="13.47" height="11.02" fill="#3E94D1"/>
<rect x="309.37" y="124.33" width="13.47" height="11.02" fill="#A5D7ED"/>
<rect x="322.84" y="124.33" width="13.47" height="11.02" fill="#ECF8E0"/>
<rect x="336.31" y="124.33" width="13.47" height="11.02" fill="#F9FDCB"/>
<rect x="349.78" y="124.33" width="13.47" height="11.02" fill="#FFF6B1"/>
<rect x="363.25" y="124.33" width="13.47" height="11.02" fill="#FEDC8D"/>
<rect x="376.72" y="124.33" width="13.47" height="11.02" fill="#4198D3"/>
<rect x="390.19" y="124.33" width="13.47" height="11.02" fill="#FEEA9E"/>
<rect x="403.66" y="124.33" width="13.47" height="11.02" fill="#FDB769"/>
<rect x="417.13" y="124.33" width="13.47" height="11.02" fill="#FDB96B"/>
<rect x="430.60" y="124.33" width="13.47" height="11.02" fill="#FA8045"/>
<rect x="444.07" y="124.33" width="13.47" height="11.02" fill="#D92124"/>
<rect x="295.90" y="135.35" width="13.47" height="11.02" fill="#1D6EBE"/>
<rect x="309.37" y="135.35" width="13.47" height="11.02" fill="#F97A41"/>
<rect x="322.84" y="135.35" width="13.47" height="11.02" fill="#F9763F"/>
<rect x="336.31" y="135.35" width="13.47" height="11.02" fill="#FECA7B"/>
<rect x="349.78" y="135.35" width="13.47" height="11.02" fill="#EDF9DF"/>
<rect x="363.25" y="135.35" width="13.47" height="11.02" fill="#FFFBBA"/>
<rect x="376.72" y="135.35" width="13.47" height="11.02" fill="#267DC5"/>
<rect x="390.19" y="135.35" width="13.47" height="11.02" fill="#FA8548"/>
<rect x="403.66" y="135.35" width="13.47" height="11.02" fill="#FCA45B"/>
<rect x="417.13" y="135.35" width="13.47" height="11.02" fill="#FAFDC9"/>
<rect x="430.60" y="135.35" width="13.47" height="11.02" fill="#F8FDCC"/>
<rect x="444.07" y="135.35" width="13.47" height="11.02" fill="#FFF2AC"/>
<rect x="295.90" y="146.36" width="13.47" height="11.02" fill="#72BAE3"/>
<rect x="309.37" y="146.36" width="13.47" height="11.02" fill="#50A6DB"/>
<rect x="322.84" y="146.36" width="13.47" height="11.02" fill="#F6FCD0"/>
<rect x="336.31" y="146.36" width="13.47" height="11.02" fill="#FEE394"/>
<rect x="349.78" y="146.36" width="13.47" height="11.02" fill="#FA8A4B"/>
<rect x="363.25" y="146.36" width="13.47" height="11.02" fill="#F35630"/>
<rect x="376.72" y="146.36" width="13.47" height="11.02" fill="#5DAEDE"/>
<rect x="390.19" y="146.36" width="13.47" height="11.02" fill="#ECF8E0"/>
<rect x="403.66" y="146.36" width="13.47" height="11.02" fill="#FFF1AA"/>
<rect x="417.13" y="146.36" width="13.47" height="11.02" fill="#F2FAD7"/>
<rect x="430.60" y="146.36" width="13.47" height="11.02" fill="#F97D43"/>
<rect x="444.07" y="146.36" width="13.47" height="11.02" fill="#F45B31"/>
<rect x="295.90" y="157.38" width="13.47" height="11.02" fill="#2C83C8"/>
<rect x="309.37" y="157.38" width="13.47" height="11.02" fill="#FDC677"/>
<rect x="322.84" y="157.38" width="13.47" height="11.02" fill="#FA8A4B"/>
<rect x="336.31" y="157.38" width="13.47" height="11.02" fill="#FDB769"/>
<rect x="349.78" y="157.38" width="13.47" height="11.02" fill="#FEE191"/>
<rect x="363.25" y="157.38" width="13.47" height="11.02" fill="#FEE698"/>
<rect x="376.72" y="157.38" width="13.47" height="11.02" fill="#1F37A8"/>
<rect x="390.19" y="157.38" width="13.47" height="11.02" fill="#FDBD6E"/>
<rect x="403.66" y="157.38" width="13.47" height="11.02" fill="#FDB264"/>
<rect x="417.13" y="157.38" width="13.47" height="11.02" fill="#FEEFA7"/>
<rect x="430.60" y="157.38" width="13.47" height="11.02" fill="#FFFBBA"/>
<rect x="444.07" y="157.38" width="13.47" height="11.02" fill="#EAF8E4"/>
<rect x="295.90" y="168.40" width="13.47" height="11.02" fill="#1D73C0"/>
<rect x="309.37" y="168.40" width="13.47" height="11.02" fill="#FDB566"/>
<rect x="322.84" y="168.40" width="13.47" height="11.02" fill="#FCA65C"/>
<rect x="336.31" y="168.40" width="13.47" height="11.02" fill="#FDC475"/>
<rect x="349.78" y="168.40" width="13.47" height="11.02" fill="#FFF9B6"/>
<rect x="363.25" y="168.40" width="13.47" height="11.02" fill="#FEE89B"/>
<rect x="376.72" y="168.40" width="13.47" height="11.02" fill="#1F35A8"/>
<rect x="390.19" y="168.40" width="13.47" height="11.02" fill="#FDA95E"/>
<rect x="403.66" y="168.40" width="13.47" height="11.02" fill="#FDAE61"/>
<rect x="417.13" y="168.40" width="13.47" height="11.02" fill="#FEE89C"/>
<rect x="430.60" y="168.40" width="13.47" height="11.02" fill="#FFFBB9"/>
<rect x="444.07" y="168.40" width="13.47" height="11.02" fill="#FEECA1"/>
<rect x="295.90" y="179.41" width="13.47" height="11.02" fill="#257CC4"/>
<rect x="309.37" y="179.41" width="13.47" height="11.02" fill="#F86E3B"/>
<rect x="322.84" y="179.41" width="13.47" height="11.02" fill="#F97D43"/>
<rect x="336.31" y="179.41" width="13.47" height="11.02" fill="#FEDA8A"/>
<rect x="349.78" y="179.41" width="13.47" height="11.02" fill="#D2EDF4"/>
<rect x="363.25" y="179.41" width="13.47" height="11.02" fill="#FEFFC2"/>
<rect x="376.72" y="179.41" width="13.47" height="11.02" fill="#3289CB"/>
<rect x="390.19" y="179.41" width="13.47" height="11.02" fill="#F9723D"/>
<rect x="403.66" y="179.41" width="13.47" height="11.02" fill="#FB9B55"/>
<rect x="417.13" y="179.41" width="13.47" height="11.02" fill="#F5FCD1"/>
<rect x="430.60" y="179.41" width="13.47" height="11.02" fill="#F5FCD1"/>
<rect x="444.07" y="179.41" width="13.47" height="11.02" fill="#FEE89B"/>
<rect x="295.90" y="190.43" width="13.47" height="11.02" fill="#61B0DF"/>
<rect x="309.37" y="190.43" width="13.47" height="11.02" fill="#F9763F"/>
<rect x="322.84" y="190.43" width="13.47" height="11.02" fill="#FB9753"/>
<rect x="336.31" y="190.43" width="13.47" height="11.02" fill="#EEF9DE"/>
<rect x="349.78" y="190.43" width="13.47" height="11.02" fill="#C4E6F2"/>
<rect x="363.25" y="190.43" width="13.47" height="11.02" fill="#ECF8E2"/>
<rect x="376.72" y="190.43" width="13.47" height="11.02" fill="#469DD6"/>
<rect x="390.19" y="190.43" width="13.47" height="11.02" fill="#EE4629"/>
<rect x="403.66" y="190.43" width="13.47" height="11.02" fill="#F66435"/>
<rect x="417.13" y="190.43" width="13.47" height="11.02" fill="#ECF8E0"/>
<rect x="430.60" y="190.43" width="13.47" height="11.02" fill="#E9F7E7"/>
<rect x="444.07" y="190.43" width="13.47" height="11.02" fill="#FED485"/>
<rect x="295.90" y="201.44" width="13.47" height="11.02" fill="#5FAFDF"/>
<rect x="309.37" y="201.44" width="13.47" height="11.02" fill="#F76837"/>
<rect x="322.84" y="201.44" width="13.47" height="11.02" fill="#FA8749"/>
<rect x="336.31" y="201.44" width="13.47" height="11.02" fill="#FFFFBF"/>
<rect x="349.78" y="201.44" width="13.47" height="11.02" fill="#CFEBF3"/>
<rect x="363.25" y="201.44" width="13.47" height="11.02" fill="#E8F7E8"/>
<rect x="376.72" y="201.44" width="13.47" height="11.02" fill="#4399D4"/>
<rect x="390.19" y="201.44" width="13.47" height="11.02" fill="#EB3B24"/>
<rect x="403.66" y="201.44" width="13.47" height="11.02" fill="#F9753E"/>
<rect x="417.13" y="201.44" width="13.47" height="11.02" fill="#E7F7E9"/>
<rect x="430.60" y="201.44" width="13.47" height="11.02" fill="#E7F6EA"/>
<rect x="444.07" y="201.44" width="13.47" height="11.02" fill="#FEE597"/>
<rect x="295.90" y="212.46" width="13.47" height="11.02" fill="#449AD5"/>
<rect x="309.37" y="212.46" width="13.47" height="11.02" fill="#F35931"/>
<rect x="322.84" y="212.46" width="13.47" height="11.02" fill="#F76837"/>
<rect x="336.31" y="212.46" width="13.47" height="11.02" fill="#FEEEA5"/>
<rect x="349.78" y="212.46" width="13.47" height="11.02" fill="#E0F4F6"/>
<rect x="363.25" y="212.46" width="13.47" height="11.02" fill="#F7FCCD"/>
<rect x="376.72" y="212.46" width="13.47" height="11.02" fill="#4198D3"/>
<rect x="390.19" y="212.46" width="13.47" height="11.02" fill="#F04D2B"/>
<rect x="403.66" y="212.46" width="13.47" height="11.02" fill="#FDB769"/>
<rect x="417.13" y="212.46" width="13.47" height="11.02" fill="#E8F7E8"/>
<rect x="430.60" y="212.46" width="13.47" height="11.02" fill="#E8F7E8"/>
<rect x="444.07" y="212.46" width="13.47" height="11.02" fill="#FFF4AE"/>
<rect x="295.90" y="223.48" width="13.47" height="11.02" fill="#FFF9B6"/>
<rect x="309.37" y="223.48" width="13.47" height="11.02" fill="#FB8D4D"/>
<rect x="322.84" y="223.48" width="13.47" height="11.02" fill="#FDB769"/>
<rect x="336.31" y="223.48" width="13.47" height="11.02" fill="#E5F6EE"/>
<rect x="349.78" y="223.48" width="13.47" height="11.02" fill="#A7D7EE"/>
<rect x="363.25" y="223.48" width="13.47" height="11.02" fill="#AAD9EE"/>
<rect x="376.72" y="223.48" width="13.47" height="11.02" fill="#FEE090"/>
<rect x="390.19" y="223.48" width="13.47" height="11.02" fill="#CC1329"/>
<rect x="403.66" y="223.48" width="13.47" height="11.02" fill="#F9733E"/>
<rect x="417.13" y="223.48" width="13.47" height="11.02" fill="#98D0EB"/>
<rect x="430.60" y="223.48" width="13.47" height="11.02" fill="#8ECAE9"/>
<rect x="444.07" y="223.48" width="13.47" height="11.02" fill="#D7EFF5"/>
<rect x="295.90" y="234.49" width="13.47" height="11.02" fill="#3F95D2"/>
<rect x="309.37" y="234.49" width="13.47" height="11.02" fill="#F1502D"/>
<rect x="322.84" y="234.49" width="13.47" height="11.02" fill="#F9753E"/>
<rect x="336.31" y="234.49" width="13.47" height="11.02" fill="#FED485"/>
<rect x="349.78" y="234.49" width="13.47" height="11.02" fill="#E1F4F4"/>
<rect x="363.25" y="234.49" width="13.47" height="11.02" fill="#F7FCCF"/>
<rect x="376.72" y="234.49" width="13.47" height="11.02" fill="#4BA1D8"/>
<rect x="390.19" y="234.49" width="13.47" height="11.02" fill="#EF4A2A"/>
<rect x="403.66" y="234.49" width="13.47" height="11.02" fill="#FDB86A"/>
<rect x="417.13" y="234.49" width="13.47" height="11.02" fill="#E7F6EA"/>
<rect x="430.60" y="234.49" width="13.47" height="11.02" fill="#E6F6EC"/>
<rect x="444.07" y="234.49" width="13.47" height="11.02" fill="#FAFDC9"/>
<rect x="295.90" y="245.51" width="13.47" height="11.02" fill="#1D6EBE"/>
<rect x="309.37" y="245.51" width="13.47" height="11.02" fill="#FB9B55"/>
<rect x="322.84" y="245.51" width="13.47" height="11.02" fill="#FCA45B"/>
<rect x="336.31" y="245.51" width="13.47" height="11.02" fill="#FEE698"/>
<rect x="349.78" y="245.51" width="13.47" height="11.02" fill="#FFFBBA"/>
<rect x="363.25" y="245.51" width="13.47" height="11.02" fill="#FEF0A9"/>
<rect x="376.72" y="245.51" width="13.47" height="11.02" fill="#1E59B5"/>
<rect x="390.19" y="245.51" width="13.47" height="11.02" fill="#F9763F"/>
<rect x="403.66" y="245.51" width="13.47" height="11.02" fill="#FA8C4C"/>
<rect x="417.13" y="245.51" width="13.47" height="11.02" fill="#FFF6B1"/>
<rect x="430.60" y="245.51" width="13.47" height="11.02" fill="#FFFFC1"/>
<rect x="444.07" y="245.51" width="13.47" height="11.02" fill="#FFF4AF"/>
<rect x="295.90" y="256.52" width="13.47" height="11.02" fill="#489ED6"/>
<rect x="309.37" y="256.52" width="13.47" height="11.02" fill="#FB9652"/>
<rect x="322.84" y="256.52" width="13.47" height="11.02" fill="#FA884A"/>
<rect x="336.31" y="256.52" width="13.47" height="11.02" fill="#FCA45B"/>
<rect x="349.78" y="256.52" width="13.47" height="11.02" fill="#FFF2AC"/>
<rect x="363.25" y="256.52" width="13.47" height="11.02" fill="#FFF4AE"/>
<rect x="376.72" y="256.52" width="13.47" height="11.02" fill="#1D74C0"/>
<rect x="390.19" y="256.52" width="13.47" height="11.02" fill="#FA8C4C"/>
<rect x="403.66" y="256.52" width="13.47" height="11.02" fill="#FC9F58"/>
<rect x="417.13" y="256.52" width="13.47" height="11.02" fill="#FEE89C"/>
<rect x="430.60" y="256.52" width="13.47" height="11.02" fill="#ECF8E0"/>
<rect x="444.07" y="256.52" width="13.47" height="11.02" fill="#A1D4ED"/>
<rect x="295.90" y="267.54" width="13.47" height="11.02" fill="#1D70BE"/>
<rect x="309.37" y="267.54" width="13.47" height="11.02" fill="#F97B42"/>
<rect x="322.84" y="267.54" width="13.47" height="11.02" fill="#FA884A"/>
<rect x="336.31" y="267.54" width="13.47" height="11.02" fill="#FED384"/>
<rect x="349.78" y="267.54" width="13.47" height="11.02" fill="#F5FCD1"/>
<rect x="363.25" y="267.54" width="13.47" height="11.02" fill="#FFF3AD"/>
<rect x="376.72" y="267.54" width="13.47" height="11.02" fill="#1E5CB7"/>
<rect x="390.19" y="267.54" width="13.47" height="11.02" fill="#FB8D4D"/>
<rect x="403.66" y="267.54" width="13.47" height="11.02" fill="#FDB96B"/>
<rect x="417.13" y="267.54" width="13.47" height="11.02" fill="#FFF8B5"/>
<rect x="430.60" y="267.54" width="13.47" height="11.02" fill="#F7FCCD"/>
<rect x="444.07" y="267.54" width="13.47" height="11.02" fill="#FEE79A"/>
<rect x="295.90" y="278.56" width="13.47" height="11.02" fill="#1F39A9"/>
<rect x="309.37" y="278.56" width="13.47" height="11.02" fill="#FDB163"/>
<rect x="322.84" y="278.56" width="13.47" height="11.02" fill="#FDB668"/>
<rect x="336.31" y="278.56" width="13.47" height="11.02" fill="#FFFBBA"/>
<rect x="349.78" y="278.56" width="13.47" height="11.02" fill="#FFFAB8"/>
<rect x="363.25" y="278.56" width="13.47" height="11.02" fill="#FEE699"/>
<rect x="376.72" y="278.56" width="13.47" height="11.02" fill="#3188CB"/>
<rect x="390.19" y="278.56" width="13.47" height="11.02" fill="#F97840"/>
<rect x="403.66" y="278.56" width="13.47" height="11.02" fill="#FEEEA5"/>
<rect x="417.13" y="278.56" width="13.47" height="11.02" fill="#F5FCD1"/>
<rect x="430.60" y="278.56" width="13.47" height="11.02" fill="#FED384"/>
<rect x="444.07" y="278.56" width="13.47" height="11.02" fill="#FA8A4B"/>
<rect x="295.90" y="289.57" width="13.47" height="11.02" fill="#2178C2"/>
<rect x="309.37" y="289.57" width="13.47" height="11.02" fill="#FB9B55"/>
<rect x="322.84" y="289.57" width="13.47" height="11.02" fill="#FA8045"/>
<rect x="336.31" y="289.57" width="13.47" height="11.02" fill="#FED384"/>
<rect x="349.78" y="289.57" width="13.47" height="11.02" fill="#E7F7E9"/>
<rect x="363.25" y="289.57" width="13.47" height="11.02" fill="#FEE393"/>
<rect x="376.72" y="289.57" width="13.47" height="11.02" fill="#1F76C1"/>
<rect x="390.19" y="289.57" width="13.47" height="11.02" fill="#F86B39"/>
<rect x="403.66" y="289.57" width="13.47" height="11.02" fill="#FDAB5F"/>
<rect x="417.13" y="289.57" width="13.47" height="11.02" fill="#FCFEC4"/>
<rect x="430.60" y="289.57" width="13.47" height="11.02" fill="#E6F6EC"/>
<rect x="444.07" y="289.57" width="13.47" height="11.02" fill="#FEEA9F"/>
<rect x="295.90" y="300.59" width="13.47" height="11.02" fill="#1D6EBE"/>
<rect x="309.37" y="300.59" width="13.47" height="11.02" fill="#FDC677"/>
<rect x="322.84" y="300.59" width="13.47" height="11.02" fill="#FA884A"/>
<rect x="336.31" y="300.59" width="13.47" height="11.02" fill="#FC9F58"/>
<rect x="349.78" y="300.59" width="13.47" height="11.02" fill="#FFF7B3"/>
<rect x="363.25" y="300.59" width="13.47" height="11.02" fill="#FFF7B3"/>
<rect x="376.72" y="300.59" width="13.47" height="11.02" fill="#1E5CB7"/>
<rect x="390.19" y="300.59" width="13.47" height="11.02" fill="#FCA35A"/>
<rect x="403.66" y="300.59" width="13.47" height="11.02" fill="#FDAE61"/>
<rect x="417.13" y="300.59" width="13.47" height="11.02" fill="#FECE7F"/>
<rect x="430.60" y="300.59" width="13.47" height="11.02" fill="#FFF7B4"/>
<rect x="444.07" y="300.59" width="13.47" height="11.02" fill="#E4F5EF"/>
<rect x="295.90" y="311.60" width="13.47" height="11.02" fill="#1D6BBC"/>
<rect x="309.37" y="311.60" width="13.47" height="11.02" fill="#FFF2AC"/>
<rect x="322.84" y="311.60" width="13.47" height="11.02" fill="#FDAE61"/>
<rect x="336.31" y="311.60" width="13.47" height="11.02" fill="#FA884A"/>
<rect x="349.78" y="311.60" width="13.47" height="11.02" fill="#FDC677"/>
<rect x="363.25" y="311.60" width="13.47" height="11.02" fill="#FEE090"/>
<rect x="376.72" y="311.60" width="13.47" height="11.02" fill="#1E42AD"/>
<rect x="390.19" y="311.60" width="13.47" height="11.02" fill="#FEDB8B"/>
<rect x="403.66" y="311.60" width="13.47" height="11.02" fill="#FECA7B"/>
<rect x="417.13" y="311.60" width="13.47" height="11.02" fill="#FDB96B"/>
<rect x="430.60" y="311.60" width="13.47" height="11.02" fill="#FEE699"/>
<rect x="444.07" y="311.60" width="13.47" height="11.02" fill="#F0FADA"/>
<rect x="295.90" y="322.62" width="13.47" height="11.02" fill="#3289CB"/>
<rect x="309.37" y="322.62" width="13.47" height="11.02" fill="#FDB566"/>
<rect x="322.84" y="322.62" width="13.47" height="11.02" fill="#FA8246"/>
<rect x="336.31" y="322.62" width="13.47" height="11.02" fill="#FA8C4C"/>
<rect x="349.78" y="322.62" width="13.47" height="11.02" fill="#FEE292"/>
<rect x="363.25" y="322.62" width="13.47" height="11.02" fill="#FEDB8B"/>
<rect x="376.72" y="322.62" width="13.47" height="11.02" fill="#1F3AA9"/>
<rect x="390.19" y="322.62" width="13.47" height="11.02" fill="#FEDA8A"/>
<rect x="403.66" y="322.62" width="13.47" height="11.02" fill="#FED181"/>
<rect x="417.13" y="322.62" width="13.47" height="11.02" fill="#FEDC8D"/>
<rect x="430.60" y="322.62" width="13.47" height="11.02" fill="#FFF9B7"/>
<rect x="444.07" y="322.62" width="13.47" height="11.02" fill="#DAF1F5"/>
<rect x="295.90" y="333.64" width="13.47" height="11.02" fill="#2077C2"/>
<rect x="309.37" y="333.64" width="13.47" height="11.02" fill="#FDB365"/>
<rect x="322.84" y="333.64" width="13.47" height="11.02" fill="#FB9753"/>
<rect x="336.31" y="333.64" width="13.47" height="11.02" fill="#FDB365"/>
<rect x="349.78" y="333.64" width="13.47" height="11.02" fill="#FEEA9F"/>
<rect x="363.25" y="333.64" width="13.47" height="11.02" fill="#FED888"/>
<rect x="376.72" y="333.64" width="13.47" height="11.02" fill="#1F2FA5"/>
<rect x="390.19" y="333.64" width="13.47" height="11.02" fill="#FDB566"/>
<rect x="403.66" y="333.64" width="13.47" height="11.02" fill="#FECF80"/>
<rect x="417.13" y="333.64" width="13.47" height="11.02" fill="#FFF9B7"/>
<rect x="430.60" y="333.64" width="13.47" height="11.02" fill="#FFF4AE"/>
<rect x="444.07" y="333.64" width="13.47" height="11.02" fill="#FFF2AC"/>
<rect x="295.90" y="344.65" width="13.47" height="11.02" fill="#50A6DB"/>
<rect x="309.37" y="344.65" width="13.47" height="11.02" fill="#F97B42"/>
<rect x="322.84" y="344.65" width="13.47" height="11.02" fill="#F86938"/>
<rect x="336.31" y="344.65" width="13.47" height="11.02" fill="#FDAB5F"/>
<rect x="349.78" y="344.65" width="13.47" height="11.02" fill="#FFFBBA"/>
<rect x="363.25" y="344.65" width="13.47" height="11.02" fill="#FFF4AF"/>
<rect x="376.72" y="344.65" width="13.47" height="11.02" fill="#2E84C9"/>
<rect x="390.19" y="344.65" width="13.47" height="11.02" fill="#F97A41"/>
<rect x="403.66" y="344.65" width="13.47" height="11.02" fill="#FCA35A"/>
<rect x="417.13" y="344.65" width="13.47" height="11.02" fill="#FAFDC9"/>
<rect x="430.60" y="344.65" width="13.47" height="11.02" fill="#E4F5EF"/>
<rect x="444.07" y="344.65" width="13.47" height="11.02" fill="#9CD2EC"/>
<rect x="295.90" y="355.67" width="13.47" height="11.02" fill="#1D71BF"/>
<rect x="309.37" y="355.67" width="13.47" height="11.02" fill="#F9753E"/>
<rect x="322.84" y="355.67" width="13.47" height="11.02" fill="#FA8A4B"/>
<rect x="336.31" y="355.67" width="13.47" height="11.02" fill="#FEE393"/>
<rect x="349.78" y="355.67" width="13.47" height="11.02" fill="#E2F5F3"/>
<rect x="363.25" y="355.67" width="13.47" height="11.02" fill="#FEEEA5"/>
<rect x="376.72" y="355.67" width="13.47" height="11.02" fill="#3289CB"/>
<rect x="390.19" y="355.67" width="13.47" height="11.02" fill="#F76737"/>
<rect x="403.66" y="355.67" width="13.47" height="11.02" fill="#FDB264"/>
<rect x="417.13" y="355.67" width="13.47" height="11.02" fill="#F4FBD4"/>
<rect x="430.60" y="355.67" width="13.47" height="11.02" fill="#E9F7E7"/>
<rect x="444.07" y="355.67" width="13.47" height="11.02" fill="#FED787"/>
<rect x="295.90" y="366.68" width="13.47" height="11.02" fill="#499FD7"/>
<rect x="309.37" y="366.68" width="13.47" height="11.02" fill="#F76737"/>
<rect x="322.84" y="366.68" width="13.47" height="11.02" fill="#F9763F"/>
<rect x="336.31" y="366.68" width="13.47" height="11.02" fill="#FECD7E"/>
<rect x="349.78" y="366.68" width="13.47" height="11.02" fill="#E3F5F1"/>
<rect x="363.25" y="366.68" width="13.47" height="11.02" fill="#FCFEC6"/>
<rect x="376.72" y="366.68" width="13.47" height="11.02" fill="#3289CB"/>
<rect x="390.19" y="366.68" width="13.47" height="11.02" fill="#F45B31"/>
<rect x="403.66" y="366.68" width="13.47" height="11.02" fill="#FB8F4E"/>
<rect x="417.13" y="366.68" width="13.47" height="11.02" fill="#FFFDBD"/>
<rect x="430.60" y="366.68" width="13.47" height="11.02" fill="#DFF3F6"/>
<rect x="444.07" y="366.68" width="13.47" height="11.02" fill="#E5F6EE"/>
<rect x="295.90" y="377.70" width="13.47" height="11.02" fill="#1D69BC"/>
<rect x="309.37" y="377.70" width="13.47" height="11.02" fill="#FFF2AC"/>
<rect x="322.84" y="377.70" width="13.47" height="11.02" fill="#FDC475"/>
<rect x="336.31" y="377.70" width="13.47" height="11.02" fill="#FC9C56"/>
<rect x="349.78" y="377.70" width="13.47" height="11.02" fill="#FEDC8D"/>
<rect x="363.25" y="377.70" width="13.47" height="11.02" fill="#FEE495"/>
<rect x="376.72" y="377.70" width="13.47" height="11.02" fill="#1F3AA9"/>
<rect x="390.19" y="377.70" width="13.47" height="11.02" fill="#FEE79A"/>
<rect x="403.66" y="377.70" width="13.47" height="11.02" fill="#FDC173"/>
<rect x="417.13" y="377.70" width="13.47" height="11.02" fill="#FDB062"/>
<rect x="430.60" y="377.70" width="13.47" height="11.02" fill="#FDC778"/>
<rect x="444.07" y="377.70" width="13.47" height="11.02" fill="#FFFBB9"/>
<rect x="295.90" y="388.72" width="13.47" height="11.02" fill="#1E59B5"/>
<rect x="309.37" y="388.72" width="13.47" height="11.02" fill="#FDBA6C"/>
<rect x="322.84" y="388.72" width="13.47" height="11.02" fill="#FB9954"/>
<rect x="336.31" y="388.72" width="13.47" height="11.02" fill="#FDB86A"/>
<rect x="349.78" y="388.72" width="13.47" height="11.02" fill="#FEFFC2"/>
<rect x="363.25" y="388.72" width="13.47" height="11.02" fill="#FEF0A8"/>
<rect x="376.72" y="388.72" width="13.47" height="11.02" fill="#1E57B5"/>
<rect x="390.19" y="388.72" width="13.47" height="11.02" fill="#FDA95E"/>
<rect x="403.66" y="388.72" width="13.47" height="11.02" fill="#FCA35A"/>
<rect x="417.13" y="388.72" width="13.47" height="11.02" fill="#FEE394"/>
<rect x="430.60" y="388.72" width="13.47" height="11.02" fill="#FFFDBC"/>
<rect x="444.07" y="388.72" width="13.47" height="11.02" fill="#FEF0A8"/>
<rect x="295.90" y="399.73" width="13.47" height="11.02" fill="#85C5E7"/>
<rect x="309.37" y="399.73" width="13.47" height="11.02" fill="#E7F7E9"/>
<rect x="322.84" y="399.73" width="13.47" height="11.02" fill="#CCEAF3"/>
<rect x="336.31" y="399.73" width="13.47" height="11.02" fill="#AAD9EE"/>
<rect x="349.78" y="399.73" width="13.47" height="11.02" fill="#8CC9E9"/>
<rect x="363.25" y="399.73" width="13.47" height="11.02" fill="#CFEBF3"/>
<rect x="376.72" y="399.73" width="13.47" height="11.02" fill="#DFF3F6"/>
<rect x="390.19" y="399.73" width="13.47" height="11.02" fill="#EA3923"/>
<rect x="403.66" y="399.73" width="13.47" height="11.02" fill="#EE4729"/>
<rect x="417.13" y="399.73" width="13.47" height="11.02" fill="#FCA45B"/>
<rect x="430.60" y="399.73" width="13.47" height="11.02" fill="#FCA45B"/>
<rect x="444.07" y="399.73" width="13.47" height="11.02" fill="#FB9250"/>
<rect x="295.90" y="410.75" width="13.47" height="11.02" fill="#55AADD"/>
<rect x="309.37" y="410.75" width="13.47" height="11.02" fill="#E7F7E9"/>
<rect x="322.84" y="410.75" width="13.47" height="11.02" fill="#E7F7E9"/>
<rect x="336.31" y="410.75" width="13.47" height="11.02" fill="#D0ECF4"/>
<rect x="349.78" y="410.75" width="13.47" height="11.02" fill="#7EC1E6"/>
<rect x="363.25" y="410.75" width="13.47" height="11.02" fill="#CAE9F3"/>
<rect x="376.72" y="410.75" width="13.47" height="11.02" fill="#CFEBF3"/>
<rect x="390.19" y="410.75" width="13.47" height="11.02" fill="#ED4126"/>
<rect x="403.66" y="410.75" width="13.47" height="11.02" fill="#F35931"/>
<rect x="417.13" y="410.75" width="13.47" height="11.02" fill="#FCA45B"/>
<rect x="430.60" y="410.75" width="13.47" height="11.02" fill="#FB9652"/>
<rect x="444.07" y="410.75" width="13.47" height="11.02" fill="#FA8C4C"/>
<rect x="295.90" y="421.76" width="13.47" height="11.02" fill="#2279C3"/>
<rect x="309.37" y="421.76" width="13.47" height="11.02" fill="#FA8C4C"/>
<rect x="322.84" y="421.76" width="13.47" height="11.02" fill="#FB8D4D"/>
<rect x="336.31" y="421.76" width="13.47" height="11.02" fill="#FDC173"/>
<rect x="349.78" y="421.76" width="13.47" height="11.02" fill="#FBFEC7"/>
<rect x="363.25" y="421.76" width="13.47" height="11.02" fill="#FFF1AA"/>
<rect x="376.72" y="421.76" width="13.47" height="11.02" fill="#1E4AB0"/>
<rect x="390.19" y="421.76" width="13.47" height="11.02" fill="#FB8D4D"/>
<rect x="403.66" y="421.76" width="13.47" height="11.02" fill="#FDB566"/>
<rect x="417.13" y="421.76" width="13.47" height="11.02" fill="#FFF9B7"/>
<rect x="430.60" y="421.76" width="13.47" height="11.02" fill="#FFFBB9"/>
<rect x="444.07" y="421.76" width="13.47" height="11.02" fill="#FFF9B6"/>
<rect x="295.90" y="432.78" width="13.47" height="11.02" fill="#1E61B9"/>
<rect x="309.37" y="432.78" width="13.47" height="11.02" fill="#FFF4AE"/>
<rect x="322.84" y="432.78" width="13.47" height="11.02" fill="#FDB062"/>
<rect x="336.31" y="432.78" width="13.47" height="11.02" fill="#F04C2B"/>
<rect x="349.78" y="432.78" width="13.47" height="11.02" fill="#FEE393"/>
<rect x="363.25" y="432.78" width="13.47" height="11.02" fill="#FED485"/>
<rect x="376.72" y="432.78" width="13.47" height="11.02" fill="#1D68BB"/>
<rect x="390.19" y="432.78" width="13.47" height="11.02" fill="#FEDA8A"/>
<rect x="403.66" y="432.78" width="13.47" height="11.02" fill="#FCA85D"/>
<rect x="417.13" y="432.78" width="13.47" height="11.02" fill="#FEE495"/>
<rect x="430.60" y="432.78" width="13.47" height="11.02" fill="#F2FAD6"/>
<rect x="444.07" y="432.78" width="13.47" height="11.02" fill="#FFFDBD"/>
<rect x="295.90" y="443.80" width="13.47" height="11.02" fill="#F9753E"/>
<rect x="309.37" y="443.80" width="13.47" height="11.02" fill="#F7FCCD"/>
<rect x="322.84" y="443.80" width="13.47" height="11.02" fill="#DDF3F6"/>
<rect x="336.31" y="443.80" width="13.47" height="11.02" fill="#9CD2EC"/>
<rect x="349.78" y="443.80" width="13.47" height="11.02" fill="#FB9B55"/>
<rect x="363.25" y="443.80" width="13.47" height="11.02" fill="#FB9954"/>
<rect x="376.72" y="443.80" width="13.47" height="11.02" fill="#F9723D"/>
<rect x="390.19" y="443.80" width="13.47" height="11.02" fill="#79BEE4"/>
<rect x="403.66" y="443.80" width="13.47" height="11.02" fill="#2178C2"/>
<rect x="417.13" y="443.80" width="13.47" height="11.02" fill="#E5F6EE"/>
<rect x="430.60" y="443.80" width="13.47" height="11.02" fill="#FDC879"/>
<rect x="444.07" y="443.80" width="13.47" height="11.02" fill="#FCA45B"/>
<text x="302.63" y="109.81" class="nm">-1.78</text>
<text x="316.11" y="109.81" class="nm">1.13</text>
<text x="329.57" y="109.81" class="nm">0.83</text>
<text x="343.05" y="109.81" class="nm">0.26</text>
<text x="356.51" y="109.81" class="nm">-0.28</text>
<text x="369.99" y="109.81" class="nm">0.25</text>
<text x="383.45" y="109.81" class="nm">-1.81</text>
<text x="396.93" y="109.81" class="nm">1.15</text>
<text x="410.39" y="109.81" class="nm">0.52</text>
<text x="423.87" y="109.81" class="nm">-0.11</text>
<text x="437.34" y="109.81" class="nm">-0.30</text>
<text x="450.81" y="109.81" class="nm">0.30</text>
<text x="459.60" y="110.51" class="lb">Os05g38530 (Hsp70)</text>
<text x="302.63" y="120.82" class="nm">-2.08</text>
<text x="316.11" y="120.82" class="nm">-0.25</text>
<text x="329.57" y="120.82" class="nm">-0.07</text>
<text x="343.05" y="120.82" class="nm">0.36</text>
<text x="356.51" y="120.82" class="nm">0.40</text>
<text x="369.99" y="120.82" class="nm">0.75</text>
<text x="383.45" y="120.82" class="nm">-1.65</text>
<text x="396.93" y="120.82" class="nm">0.39</text>
<text x="410.39" y="120.82" class="nm">1.19</text>
<text x="423.87" y="120.82" class="nm">0.64</text>
<text x="437.34" y="120.82" class="nm">-0.07</text>
<text x="450.81" y="120.82" class="nm">0.59</text>
<text x="459.60" y="121.52" class="lb">Os07g08880 (Hsp70)</text>
<text x="302.63" y="131.84" class="nm">-1.57</text>
<text x="316.11" y="131.84" class="nm">-0.92</text>
<text x="329.57" y="131.84" class="nm">-0.38</text>
<text x="343.05" y="131.84" class="nm">-0.21</text>
<text x="356.51" y="131.84" class="nm">0.01</text>
<text x="369.99" y="131.84" class="nm">0.35</text>
<text x="383.45" y="131.84" class="nm">-1.54</text>
<text x="396.93" y="131.84" class="nm">0.19</text>
<text x="410.39" y="131.84" class="nm">0.67</text>
<text x="423.87" y="131.84" class="nm">0.65</text>
<text x="437.34" y="131.84" class="nm">1.02</text>
<text x="450.81" y="131.84" class="nm">1.78</text>
<text x="459.60" y="132.54" class="lb">Os11g47760 (Hsp70)</text>
<text x="302.63" y="142.86" class="nm">-1.87</text>
<text x="316.11" y="142.86" class="nm">1.06</text>
<text x="329.57" y="142.86" class="nm">1.08</text>
<text x="343.05" y="142.86" class="nm">0.51</text>
<text x="356.51" y="142.86" class="nm">-0.37</text>
<text x="369.99" y="142.86" class="nm">-0.07</text>
<text x="383.45" y="142.86" class="nm">-1.76</text>
<text x="396.93" y="142.86" class="nm">0.99</text>
<text x="410.39" y="142.86" class="nm">0.80</text>
<text x="423.87" y="142.86" class="nm">-0.20</text>
<text x="437.34" y="142.86" class="nm">-0.22</text>
<text x="450.81" y="142.86" class="nm">0.06</text>
<text x="459.60" y="143.56" class="lb">Os01g62290 (Hsp70)</text>
<text x="302.63" y="153.87" class="nm">-1.22</text>
<text x="316.11" y="153.87" class="nm">-1.42</text>
<text x="329.57" y="153.87" class="nm">-0.25</text>
<text x="343.05" y="153.87" class="nm">0.28</text>
<text x="356.51" y="153.87" class="nm">0.96</text>
<text x="369.99" y="153.87" class="nm">1.30</text>
<text x="383.45" y="153.87" class="nm">-1.34</text>
<text x="396.93" y="153.87" class="nm">-0.38</text>
<text x="410.39" y="153.87" class="nm">0.08</text>
<text x="423.87" y="153.87" class="nm">-0.31</text>
<text x="437.34" y="153.87" class="nm">1.04</text>
<text x="450.81" y="153.87" class="nm">1.27</text>
<text x="459.60" y="154.57" class="lb">Os01g74030 (Hsp70)</text>
<text x="302.63" y="164.89" class="nm">-1.71</text>
<text x="316.11" y="164.89" class="nm">0.54</text>
<text x="329.57" y="164.89" class="nm">0.96</text>
<text x="343.05" y="164.89" class="nm">0.67</text>
<text x="356.51" y="164.89" class="nm">0.31</text>
<text x="369.99" y="164.89" class="nm">0.25</text>
<text x="383.45" y="164.89" class="nm">-2.21</text>
<text x="396.93" y="164.89" class="nm">0.62</text>
<text x="410.39" y="164.89" class="nm">0.71</text>
<text x="423.87" y="164.89" class="nm">0.11</text>
<text x="437.34" y="164.89" class="nm">-0.07</text>
<text x="450.81" y="164.89" class="nm">-0.41</text>
<text x="459.60" y="165.59" class="lb">Os03g16920 (Hsp70)</text>
<text x="302.63" y="175.90" class="nm">-1.84</text>
<text x="316.11" y="175.90" class="nm">0.69</text>
<text x="329.57" y="175.90" class="nm">0.79</text>
<text x="343.05" y="175.90" class="nm">0.56</text>
<text x="356.51" y="175.90" class="nm">-0.03</text>
<text x="369.99" y="175.90" class="nm">0.22</text>
<text x="383.45" y="175.90" class="nm">-2.22</text>
<text x="396.93" y="175.90" class="nm">0.77</text>
<text x="410.39" y="175.90" class="nm">0.74</text>
<text x="423.87" y="175.90" class="nm">0.21</text>
<text x="437.34" y="175.90" class="nm">-0.06</text>
<text x="450.81" y="175.90" class="nm">0.16</text>
<text x="459.60" y="176.60" class="lb">Os04g01740 (Hsp90)</text>
<text x="302.63" y="186.92" class="nm">-1.77</text>
<text x="316.11" y="186.92" class="nm">1.13</text>
<text x="329.57" y="186.92" class="nm">1.04</text>
<text x="343.05" y="186.92" class="nm">0.37</text>
<text x="356.51" y="186.92" class="nm">-0.64</text>
<text x="369.99" y="186.92" class="nm">-0.14</text>
<text x="383.45" y="186.92" class="nm">-1.66</text>
<text x="396.93" y="186.92" class="nm">1.11</text>
<text x="410.39" y="186.92" class="nm">0.86</text>
<text x="423.87" y="186.92" class="nm">-0.26</text>
<text x="437.34" y="186.92" class="nm">-0.26</text>
<text x="450.81" y="186.92" class="nm">0.22</text>
<text x="459.60" y="187.62" class="lb">Os08g39140 (Hsp90)</text>
<text x="302.63" y="197.94" class="nm">-1.32</text>
<text x="316.11" y="197.94" class="nm">1.08</text>
<text x="329.57" y="197.94" class="nm">0.88</text>
<text x="343.05" y="197.94" class="nm">-0.36</text>
<text x="356.51" y="197.94" class="nm">-0.73</text>
<text x="369.99" y="197.94" class="nm">-0.39</text>
<text x="383.45" y="197.94" class="nm">-1.50</text>
<text x="396.93" y="197.94" class="nm">1.42</text>
<text x="410.39" y="197.94" class="nm">1.20</text>
<text x="423.87" y="197.94" class="nm">-0.38</text>
<text x="437.34" y="197.94" class="nm">-0.43</text>
<text x="450.81" y="197.94" class="nm">0.42</text>
<text x="459.60" y="198.64" class="lb">Os09g30412 (Hsp90)</text>
<text x="302.63" y="208.95" class="nm">-1.33</text>
<text x="316.11" y="208.95" class="nm">1.17</text>
<text x="329.57" y="208.95" class="nm">0.98</text>
<text x="343.05" y="208.95" class="nm">-0.12</text>
<text x="356.51" y="208.95" class="nm">-0.66</text>
<text x="369.99" y="208.95" class="nm">-0.44</text>
<text x="383.45" y="208.95" class="nm">-1.53</text>
<text x="396.93" y="208.95" class="nm">1.50</text>
<text x="410.39" y="208.95" class="nm">1.09</text>
<text x="423.87" y="208.95" class="nm">-0.45</text>
<text x="437.34" y="208.95" class="nm">-0.46</text>
<text x="450.81" y="208.95" class="nm">0.26</text>
<text x="459.60" y="209.65" class="lb">Os09g30418 (Hsp90)</text>
<text x="302.63" y="219.97" class="nm">-1.52</text>
<text x="316.11" y="219.97" class="nm">1.28</text>
<text x="329.57" y="219.97" class="nm">1.17</text>
<text x="343.05" y="219.97" class="nm">0.13</text>
<text x="356.51" y="219.97" class="nm">-0.55</text>
<text x="369.99" y="219.97" class="nm">-0.23</text>
<text x="383.45" y="219.97" class="nm">-1.54</text>
<text x="396.93" y="219.97" class="nm">1.37</text>
<text x="410.39" y="219.97" class="nm">0.67</text>
<text x="423.87" y="219.97" class="nm">-0.44</text>
<text x="437.34" y="219.97" class="nm">-0.44</text>
<text x="450.81" y="219.97" class="nm">0.04</text>
<text x="459.60" y="220.67" class="lb">Os03g57340 (Hsp40)</text>
<text x="302.63" y="230.98" class="nm">-0.03</text>
<text x="316.11" y="230.98" class="nm">0.94</text>
<text x="329.57" y="230.98" class="nm">0.67</text>
<text x="343.05" y="230.98" class="nm">-0.49</text>
<text x="356.51" y="230.98" class="nm">-0.91</text>
<text x="369.99" y="230.98" class="nm">-0.89</text>
<text x="383.45" y="230.98" class="nm">0.32</text>
<text x="396.93" y="230.98" class="nm">1.96</text>
<text x="410.39" y="230.98" class="nm">1.10</text>
<text x="423.87" y="230.98" class="nm">-1.00</text>
<text x="437.34" y="230.98" class="nm">-1.06</text>
<text x="450.81" y="230.98" class="nm">-0.61</text>
<text x="459.60" y="231.68" class="lb">Os05g46620 (Hsp40)</text>
<text x="302.63" y="242.00" class="nm">-1.56</text>
<text x="316.11" y="242.00" class="nm">1.35</text>
<text x="329.57" y="242.00" class="nm">1.09</text>
<text x="343.05" y="242.00" class="nm">0.42</text>
<text x="356.51" y="242.00" class="nm">-0.54</text>
<text x="369.99" y="242.00" class="nm">-0.24</text>
<text x="383.45" y="242.00" class="nm">-1.46</text>
<text x="396.93" y="242.00" class="nm">1.39</text>
<text x="410.39" y="242.00" class="nm">0.66</text>
<text x="423.87" y="242.00" class="nm">-0.46</text>
<text x="437.34" y="242.00" class="nm">-0.47</text>
<text x="450.81" y="242.00" class="nm">-0.20</text>
<text x="459.60" y="242.70" class="lb">Os04g36750 (sHSF)</text>
<text x="302.63" y="253.02" class="nm">-1.87</text>
<text x="316.11" y="253.02" class="nm">0.86</text>
<text x="329.57" y="253.02" class="nm">0.80</text>
<text x="343.05" y="253.02" class="nm">0.25</text>
<text x="356.51" y="253.02" class="nm">-0.07</text>
<text x="369.99" y="253.02" class="nm">0.09</text>
<text x="383.45" y="253.02" class="nm">-2.00</text>
<text x="396.93" y="253.02" class="nm">1.08</text>
<text x="410.39" y="253.02" class="nm">0.95</text>
<text x="423.87" y="253.02" class="nm">0.01</text>
<text x="437.34" y="253.02" class="nm">-0.13</text>
<text x="450.81" y="253.02" class="nm">0.03</text>
<text x="459.60" y="253.72" class="lb">Os05g23140 (sHSF)</text>
<text x="302.63" y="264.03" class="nm">-1.49</text>
<text x="316.11" y="264.03" class="nm">0.89</text>
<text x="329.57" y="264.03" class="nm">0.97</text>
<text x="343.05" y="264.03" class="nm">0.80</text>
<text x="356.51" y="264.03" class="nm">0.06</text>
<text x="369.99" y="264.03" class="nm">0.04</text>
<text x="383.45" y="264.03" class="nm">-1.83</text>
<text x="396.93" y="264.03" class="nm">0.95</text>
<text x="410.39" y="264.03" class="nm">0.83</text>
<text x="423.87" y="264.03" class="nm">0.21</text>
<text x="437.34" y="264.03" class="nm">-0.38</text>
<text x="450.81" y="264.03" class="nm">-0.95</text>
<text x="459.60" y="264.73" class="lb">Os06g11610 (sHSF)</text>
<text x="302.63" y="275.05" class="nm">-1.86</text>
<text x="316.11" y="275.05" class="nm">1.05</text>
<text x="329.57" y="275.05" class="nm">0.97</text>
<text x="343.05" y="275.05" class="nm">0.43</text>
<text x="356.51" y="275.05" class="nm">-0.26</text>
<text x="369.99" y="275.05" class="nm">0.05</text>
<text x="383.45" y="275.05" class="nm">-1.98</text>
<text x="396.93" y="275.05" class="nm">0.94</text>
<text x="410.39" y="275.05" class="nm">0.65</text>
<text x="423.87" y="275.05" class="nm">-0.02</text>
<text x="437.34" y="275.05" class="nm">-0.23</text>
<text x="450.81" y="275.05" class="nm">0.23</text>
<text x="459.60" y="275.75" class="lb">Os06g14240 (sHSF)</text>
<text x="302.63" y="286.06" class="nm">-2.20</text>
<text x="316.11" y="286.06" class="nm">0.72</text>
<text x="329.57" y="286.06" class="nm">0.68</text>
<text x="343.05" y="286.06" class="nm">-0.07</text>
<text x="356.51" y="286.06" class="nm">-0.05</text>
<text x="369.99" y="286.06" class="nm">0.24</text>
<text x="383.45" y="286.06" class="nm">-1.67</text>
<text x="396.93" y="286.06" class="nm">1.07</text>
<text x="410.39" y="286.06" class="nm">0.13</text>
<text x="423.87" y="286.06" class="nm">-0.26</text>
<text x="437.34" y="286.06" class="nm">0.43</text>
<text x="450.81" y="286.06" class="nm">0.96</text>
<text x="459.60" y="286.76" class="lb">Os01g04360 (sHSF)</text>
<text x="302.63" y="297.08" class="nm">-1.80</text>
<text x="316.11" y="297.08" class="nm">0.86</text>
<text x="329.57" y="297.08" class="nm">1.02</text>
<text x="343.05" y="297.08" class="nm">0.43</text>
<text x="356.51" y="297.08" class="nm">-0.45</text>
<text x="369.99" y="297.08" class="nm">0.29</text>
<text x="383.45" y="297.08" class="nm">-1.82</text>
<text x="396.93" y="297.08" class="nm">1.15</text>
<text x="410.39" y="297.08" class="nm">0.76</text>
<text x="423.87" y="297.08" class="nm">-0.16</text>
<text x="437.34" y="297.08" class="nm">-0.47</text>
<text x="450.81" y="297.08" class="nm">0.18</text>
<text x="459.60" y="297.78" class="lb">Os01g04370 (sHSF)</text>
<text x="302.63" y="308.10" class="nm">-1.87</text>
<text x="316.11" y="308.10" class="nm">0.54</text>
<text x="329.57" y="308.10" class="nm">0.97</text>
<text x="343.05" y="308.10" class="nm">0.83</text>
<text x="356.51" y="308.10" class="nm">-0.00</text>
<text x="369.99" y="308.10" class="nm">0.00</text>
<text x="383.45" y="308.10" class="nm">-1.98</text>
<text x="396.93" y="308.10" class="nm">0.81</text>
<text x="410.39" y="308.10" class="nm">0.74</text>
<text x="423.87" y="308.10" class="nm">0.47</text>
<text x="437.34" y="308.10" class="nm">-0.01</text>
<text x="450.81" y="308.10" class="nm">-0.50</text>
<text x="459.60" y="308.80" class="lb">Os01g04380 (sHSF)</text>
<text x="302.63" y="319.11" class="nm">-1.89</text>
<text x="316.11" y="319.11" class="nm">0.06</text>
<text x="329.57" y="319.11" class="nm">0.74</text>
<text x="343.05" y="319.11" class="nm">0.97</text>
<text x="356.51" y="319.11" class="nm">0.54</text>
<text x="369.99" y="319.11" class="nm">0.32</text>
<text x="383.45" y="319.11" class="nm">-2.14</text>
<text x="396.93" y="319.11" class="nm">0.36</text>
<text x="410.39" y="319.11" class="nm">0.51</text>
<text x="423.87" y="319.11" class="nm">0.65</text>
<text x="437.34" y="319.11" class="nm">0.24</text>
<text x="450.81" y="319.11" class="nm">-0.33</text>
<text x="459.60" y="319.81" class="lb">Os01g08860 (sHSF)</text>
<text x="302.63" y="330.13" class="nm">-1.66</text>
<text x="316.11" y="330.13" class="nm">0.69</text>
<text x="329.57" y="330.13" class="nm">1.01</text>
<text x="343.05" y="330.13" class="nm">0.95</text>
<text x="356.51" y="330.13" class="nm">0.30</text>
<text x="369.99" y="330.13" class="nm">0.36</text>
<text x="383.45" y="330.13" class="nm">-2.19</text>
<text x="396.93" y="330.13" class="nm">0.37</text>
<text x="410.39" y="330.13" class="nm">0.45</text>
<text x="423.87" y="330.13" class="nm">0.35</text>
<text x="437.34" y="330.13" class="nm">-0.04</text>
<text x="450.81" y="330.13" class="nm">-0.59</text>
<text x="459.60" y="330.83" class="lb">Os02g48140 (sHSF)</text>
<text x="302.63" y="341.14" class="nm">-1.81</text>
<text x="316.11" y="341.14" class="nm">0.70</text>
<text x="329.57" y="341.14" class="nm">0.88</text>
<text x="343.05" y="341.14" class="nm">0.70</text>
<text x="356.51" y="341.14" class="nm">0.18</text>
<text x="369.99" y="341.14" class="nm">0.39</text>
<text x="383.45" y="341.14" class="nm">-2.28</text>
<text x="396.93" y="341.14" class="nm">0.69</text>
<text x="410.39" y="341.14" class="nm">0.46</text>
<text x="423.87" y="341.14" class="nm">-0.04</text>
<text x="437.34" y="341.14" class="nm">0.04</text>
<text x="450.81" y="341.14" class="nm">0.06</text>
<text x="459.60" y="341.84" class="lb">Os02g52150 (sHSF)</text>
<text x="302.63" y="352.16" class="nm">-1.42</text>
<text x="316.11" y="352.16" class="nm">1.05</text>
<text x="329.57" y="352.16" class="nm">1.16</text>
<text x="343.05" y="352.16" class="nm">0.76</text>
<text x="356.51" y="352.16" class="nm">-0.07</text>
<text x="369.99" y="352.16" class="nm">0.03</text>
<text x="383.45" y="352.16" class="nm">-1.70</text>
<text x="396.93" y="352.16" class="nm">1.06</text>
<text x="410.39" y="352.16" class="nm">0.81</text>
<text x="423.87" y="352.16" class="nm">-0.20</text>
<text x="437.34" y="352.16" class="nm">-0.50</text>
<text x="450.81" y="352.16" class="nm">-0.98</text>
<text x="459.60" y="352.86" class="lb">Os02g54140 (sHSF)</text>
<text x="302.63" y="363.18" class="nm">-1.85</text>
<text x="316.11" y="363.18" class="nm">1.09</text>
<text x="329.57" y="363.18" class="nm">0.96</text>
<text x="343.05" y="363.18" class="nm">0.29</text>
<text x="356.51" y="363.18" class="nm">-0.53</text>
<text x="369.99" y="363.18" class="nm">0.13</text>
<text x="383.45" y="363.18" class="nm">-1.66</text>
<text x="396.93" y="363.18" class="nm">1.18</text>
<text x="410.39" y="363.18" class="nm">0.71</text>
<text x="423.87" y="363.18" class="nm">-0.28</text>
<text x="437.34" y="363.18" class="nm">-0.43</text>
<text x="450.81" y="363.18" class="nm">0.40</text>
<text x="459.60" y="363.88" class="lb">Os03g14180 (sHSF)</text>
<text x="302.63" y="374.19" class="nm">-1.48</text>
<text x="316.11" y="374.19" class="nm">1.18</text>
<text x="329.57" y="374.19" class="nm">1.08</text>
<text x="343.05" y="374.19" class="nm">0.48</text>
<text x="356.51" y="374.19" class="nm">-0.51</text>
<text x="369.99" y="374.19" class="nm">-0.17</text>
<text x="383.45" y="374.19" class="nm">-1.66</text>
<text x="396.93" y="374.19" class="nm">1.27</text>
<text x="410.39" y="374.19" class="nm">0.93</text>
<text x="423.87" y="374.19" class="nm">-0.10</text>
<text x="437.34" y="374.19" class="nm">-0.56</text>
<text x="450.81" y="374.19" class="nm">-0.49</text>
<text x="459.60" y="374.89" class="lb">Os03g15960 (sHSF)</text>
<text x="302.63" y="385.21" class="nm">-1.90</text>
<text x="316.11" y="385.21" class="nm">0.06</text>
<text x="329.57" y="385.21" class="nm">0.56</text>
<text x="343.05" y="385.21" class="nm">0.85</text>
<text x="356.51" y="385.21" class="nm">0.35</text>
<text x="369.99" y="385.21" class="nm">0.27</text>
<text x="383.45" y="385.21" class="nm">-2.19</text>
<text x="396.93" y="385.21" class="nm">0.23</text>
<text x="410.39" y="385.21" class="nm">0.58</text>
<text x="423.87" y="385.21" class="nm">0.73</text>
<text x="437.34" y="385.21" class="nm">0.53</text>
<text x="450.81" y="385.21" class="nm">-0.06</text>
<text x="459.60" y="385.91" class="lb">Os03g16020 (sHSF)</text>
<text x="302.63" y="396.22" class="nm">-2.00</text>
<text x="316.11" y="396.22" class="nm">0.64</text>
<text x="329.57" y="396.22" class="nm">0.87</text>
<text x="343.05" y="396.22" class="nm">0.66</text>
<text x="356.51" y="396.22" class="nm">-0.14</text>
<text x="369.99" y="396.22" class="nm">0.10</text>
<text x="383.45" y="396.22" class="nm">-2.01</text>
<text x="396.93" y="396.22" class="nm">0.77</text>
<text x="410.39" y="396.22" class="nm">0.81</text>
<text x="423.87" y="396.22" class="nm">0.28</text>
<text x="437.34" y="396.22" class="nm">-0.09</text>
<text x="450.81" y="396.22" class="nm">0.10</text>
<text x="459.60" y="396.92" class="lb">Os03g16030 (sHSF)</text>
<text x="302.63" y="407.24" class="nm">-1.11</text>
<text x="316.11" y="407.24" class="nm">-0.45</text>
<text x="329.57" y="407.24" class="nm">-0.68</text>
<text x="343.05" y="407.24" class="nm">-0.89</text>
<text x="356.51" y="407.24" class="nm">-1.07</text>
<text x="369.99" y="407.24" class="nm">-0.66</text>
<text x="383.45" y="407.24" class="nm">-0.56</text>
<text x="396.93" y="407.24" class="nm">1.52</text>
<text x="410.39" y="407.24" class="nm">1.41</text>
<text x="423.87" y="407.24" class="nm">0.80</text>
<text x="437.34" y="407.24" class="nm">0.80</text>
<text x="450.81" y="407.24" class="nm">0.91</text>
<text x="459.60" y="407.94" class="lb">Os03g16040 (sHSF)</text>
<text x="302.63" y="418.26" class="nm">-1.39</text>
<text x="316.11" y="418.26" class="nm">-0.45</text>
<text x="329.57" y="418.26" class="nm">-0.45</text>
<text x="343.05" y="418.26" class="nm">-0.65</text>
<text x="356.51" y="418.26" class="nm">-1.15</text>
<text x="369.99" y="418.26" class="nm">-0.69</text>
<text x="383.45" y="418.26" class="nm">-0.66</text>
<text x="396.93" y="418.26" class="nm">1.46</text>
<text x="410.39" y="418.26" class="nm">1.28</text>
<text x="423.87" y="418.26" class="nm">0.80</text>
<text x="437.34" y="418.26" class="nm">0.89</text>
<text x="450.81" y="418.26" class="nm">0.95</text>
<text x="459.60" y="418.96" class="lb">Os03g16030 (sHSF)</text>
<text x="302.63" y="429.27" class="nm">-1.79</text>
<text x="316.11" y="429.27" class="nm">0.95</text>
<text x="329.57" y="429.27" class="nm">0.94</text>
<text x="343.05" y="429.27" class="nm">0.58</text>
<text x="356.51" y="429.27" class="nm">-0.18</text>
<text x="369.99" y="429.27" class="nm">0.08</text>
<text x="383.45" y="429.27" class="nm">-2.09</text>
<text x="396.93" y="429.27" class="nm">0.94</text>
<text x="410.39" y="429.27" class="nm">0.69</text>
<text x="423.87" y="429.27" class="nm">-0.04</text>
<text x="437.34" y="429.27" class="nm">-0.06</text>
<text x="450.81" y="429.27" class="nm">-0.03</text>
<text x="459.60" y="429.97" class="lb">Os03g16040 (sHSF)</text>
<text x="302.63" y="440.29" class="nm">-1.95</text>
<text x="316.11" y="440.29" class="nm">0.04</text>
<text x="329.57" y="440.29" class="nm">0.73</text>
<text x="343.05" y="440.29" class="nm">1.38</text>
<text x="356.51" y="440.29" class="nm">0.29</text>
<text x="369.99" y="440.29" class="nm">0.42</text>
<text x="383.45" y="440.29" class="nm">-1.91</text>
<text x="396.93" y="440.29" class="nm">0.37</text>
<text x="410.39" y="440.29" class="nm">0.78</text>
<text x="423.87" y="440.29" class="nm">0.27</text>
<text x="437.34" y="440.29" class="nm">-0.30</text>
<text x="450.81" y="440.29" class="nm">-0.10</text>
<text x="459.60" y="440.99" class="lb">Os02g50680 (Ubx)</text>
<text x="302.63" y="451.30" class="nm">1.09</text>
<text x="316.11" y="451.30" class="nm">-0.23</text>
<text x="329.57" y="451.30" class="nm">-0.57</text>
<text x="343.05" y="451.30" class="nm">-0.98</text>
<text x="356.51" y="451.30" class="nm">0.86</text>
<text x="369.99" y="451.30" class="nm">0.87</text>
<text x="383.45" y="451.30" class="nm">1.11</text>
<text x="396.93" y="451.30" class="nm">-1.18</text>
<text x="410.39" y="451.30" class="nm">-1.80</text>
<text x="423.87" y="451.30" class="nm">-0.49</text>
<text x="437.34" y="451.30" class="nm">0.52</text>
<text x="450.81" y="451.30" class="nm">0.80</text>
<text x="459.60" y="452.00" class="lb">Os04g26920 (Png1)</text>
<line x1="295.90" y1="102.30" x2="457.54" y2="102.30" class="gl"/>
<line x1="295.90" y1="113.32" x2="457.54" y2="113.32" class="gl"/>
<line x1="295.90" y1="124.33" x2="457.54" y2="124.33" class="gl"/>
<line x1="295.90" y1="135.35" x2="457.54" y2="135.35" class="gl"/>
<line x1="295.90" y1="146.36" x2="457.54" y2="146.36" class="gl"/>
<line x1="295.90" y1="157.38" x2="457.54" y2="157.38" class="gl"/>
<line x1="295.90" y1="168.40" x2="457.54" y2="168.40" class="gl"/>
<line x1="295.90" y1="179.41" x2="457.54" y2="179.41" class="gl"/>
<line x1="295.90" y1="190.43" x2="457.54" y2="190.43" class="gl"/>
<line x1="295.90" y1="201.44" x2="457.54" y2="201.44" class="gl"/>
<line x1="295.90" y1="212.46" x2="457.54" y2="212.46" class="gl"/>
<line x1="295.90" y1="223.48" x2="457.54" y2="223.48" class="gl"/>
<line x1="295.90" y1="234.49" x2="457.54" y2="234.49" class="gl"/>
<line x1="295.90" y1="245.51" x2="457.54" y2="245.51" class="gl"/>
<line x1="295.90" y1="256.52" x2="457.54" y2="256.52" class="gl"/>
<line x1="295.90" y1="267.54" x2="457.54" y2="267.54" class="gl"/>
<line x1="295.90" y1="278.56" x2="457.54" y2="278.56" class="gl"/>
<line x1="295.90" y1="289.57" x2="457.54" y2="289.57" class="gl"/>
<line x1="295.90" y1="300.59" x2="457.54" y2="300.59" class="gl"/>
<line x1="295.90" y1="311.60" x2="457.54" y2="311.60" class="gl"/>
<line x1="295.90" y1="322.62" x2="457.54" y2="322.62" class="gl"/>
<line x1="295.90" y1="333.64" x2="457.54" y2="333.64" class="gl"/>
<line x1="295.90" y1="344.65" x2="457.54" y2="344.65" class="gl"/>
<line x1="295.90" y1="355.67" x2="457.54" y2="355.67" class="gl"/>
<line x1="295.90" y1="366.68" x2="457.54" y2="366.68" class="gl"/>
<line x1="295.90" y1="377.70" x2="457.54" y2="377.70" class="gl"/>
<line x1="295.90" y1="388.72" x2="457.54" y2="388.72" class="gl"/>
<line x1="295.90" y1="399.73" x2="457.54" y2="399.73" class="gl"/>
<line x1="295.90" y1="410.75" x2="457.54" y2="410.75" class="gl"/>
<line x1="295.90" y1="421.76" x2="457.54" y2="421.76" class="gl"/>
<line x1="295.90" y1="432.78" x2="457.54" y2="432.78" class="gl"/>
<line x1="295.90" y1="443.80" x2="457.54" y2="443.80" class="gl"/>
<line x1="295.90" y1="454.81" x2="457.54" y2="454.81" class="gl"/>
<line x1="295.90" y1="102.30" x2="295.90" y2="454.81" class="gl"/>
<line x1="309.37" y1="102.30" x2="309.37" y2="454.81" class="gl"/>
<line x1="322.84" y1="102.30" x2="322.84" y2="454.81" class="gl"/>
<line x1="336.31" y1="102.30" x2="336.31" y2="454.81" class="gl"/>
<line x1="349.78" y1="102.30" x2="349.78" y2="454.81" class="gl"/>
<line x1="363.25" y1="102.30" x2="363.25" y2="454.81" class="gl"/>
<line x1="376.72" y1="102.30" x2="376.72" y2="454.81" class="gl"/>
<line x1="390.19" y1="102.30" x2="390.19" y2="454.81" class="gl"/>
<line x1="403.66" y1="102.30" x2="403.66" y2="454.81" class="gl"/>
<line x1="417.13" y1="102.30" x2="417.13" y2="454.81" class="gl"/>
<line x1="430.60" y1="102.30" x2="430.60" y2="454.81" class="gl"/>
<line x1="444.07" y1="102.30" x2="444.07" y2="454.81" class="gl"/>
<line x1="457.54" y1="102.30" x2="457.54" y2="454.81" class="gl"/>
<text transform="translate(304.33 457.50) rotate(-45)" class="cl">T2_0</text>
<text transform="translate(317.80 457.50) rotate(-45)" class="cl">T2_0.5</text>
<text transform="translate(331.27 457.50) rotate(-45)" class="cl">T2_1</text>
<text transform="translate(344.74 457.50) rotate(-45)" class="cl">T2_3</text>
<text transform="translate(358.21 457.50) rotate(-45)" class="cl">T2_8</text>
<text transform="translate(371.69 457.50) rotate(-45)" class="cl">T2_12</text>
<text transform="translate(385.15 457.50) rotate(-45)" class="cl">T21_0</text>
<text transform="translate(398.62 457.50) rotate(-45)" class="cl">T21_0.5</text>
<text transform="translate(412.09 457.50) rotate(-45)" class="cl">T21_1</text>
<text transform="translate(425.56 457.50) rotate(-45)" class="cl">T21_3</text>
<text transform="translate(439.03 457.50) rotate(-45)" class="cl">T21_8</text>
<text transform="translate(452.50 457.50) rotate(-45)" class="cl">T21_12</text>
<defs><linearGradient id="g532" x1="0" y1="0" x2="0" y2="1"><stop offset="0.000" stop-color="#C80F2A"/><stop offset="0.100" stop-color="#E8301F"/><stop offset="0.200" stop-color="#F86A38"/><stop offset="0.300" stop-color="#FDB062"/><stop offset="0.400" stop-color="#FEE292"/><stop offset="0.500" stop-color="#FFFFC0"/><stop offset="0.600" stop-color="#E0F4F6"/><stop offset="0.700" stop-color="#9CD2EC"/><stop offset="0.800" stop-color="#52A8DC"/><stop offset="0.900" stop-color="#1D74C0"/><stop offset="1.000" stop-color="#1F2FA5"/></linearGradient></defs>
<rect x="532.10" y="19.50" width="5.80" height="85.00" fill="url(#g532)"/>
<text x="540.50" y="21.50" class="lg">2</text>
<text x="540.50" y="41.50" class="lg">1</text>
<text x="540.50" y="61.50" class="lg">0</text>
<text x="540.50" y="81.50" class="lg">-1</text>
<text x="540.50" y="101.50" class="lg">-2</text>
</svg></body></html>
